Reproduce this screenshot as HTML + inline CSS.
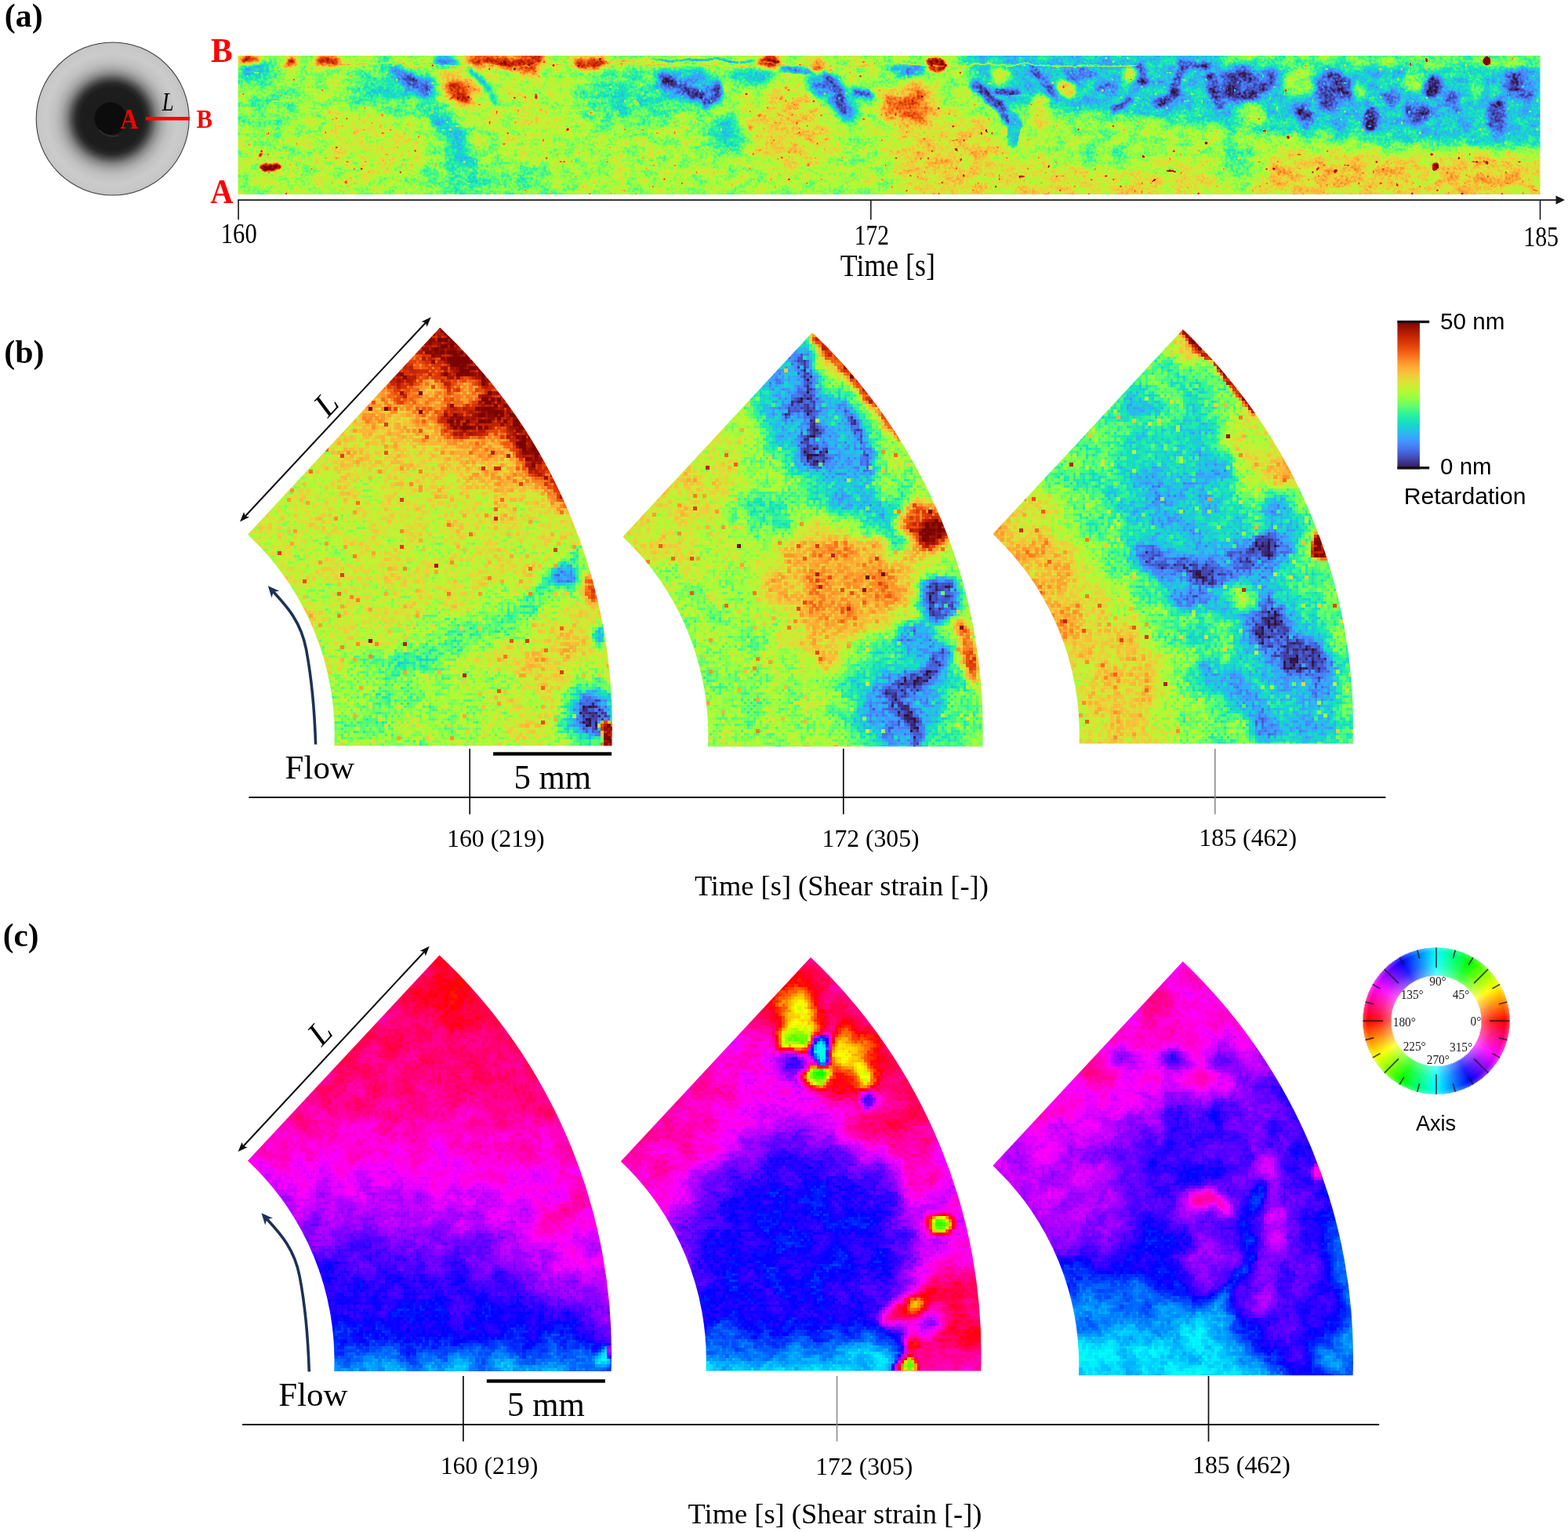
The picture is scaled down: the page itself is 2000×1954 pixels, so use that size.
<!DOCTYPE html>
<html><head><meta charset="utf-8"><title>Figure</title>
<style>html,body{margin:0;padding:0;background:#fff}svg{display:block}</style></head>
<body><svg width="2000" height="1954" viewBox="0 0 2000 1954">
<defs>
<clipPath id="cp_strip"><path d="M303.5,71.0H1964.5V248.0H303.5Z"/></clipPath>
<filter id="cm_strip" filterUnits="userSpaceOnUse" x="283" y="51" width="1701" height="217" color-interpolation-filters="sRGB"><feTurbulence type="fractalNoise" baseFrequency="0.03" numOctaves="3" seed="53" result="dn"/><feDisplacementMap in="SourceGraphic" in2="dn" scale="12" xChannelSelector="R" yChannelSelector="G" result="d"/><feTurbulence type="fractalNoise" baseFrequency="0.05 0.08" numOctaves="3" seed="94" result="q0"/><feColorMatrix in="q0" type="matrix" values="0 0 2.2 0 -0.6000000000000001  0 0 2.2 0 -0.6000000000000001  0 0 2.2 0 -0.6000000000000001  0 0 0 0 1" result="q1"/><feComposite in="d" in2="q1" operator="arithmetic" k1="0" k2="1" k3="0.14" k4="-0.07" result="vq"/><feTurbulence type="fractalNoise" baseFrequency="0.3 0.3" numOctaves="1" seed="3" result="n0"/><feColorMatrix in="n0" type="matrix" values="2.5 0 0 0 -0.75  2.5 0 0 0 -0.75  2.5 0 0 0 -0.75  0 0 0 0 1" result="n1"/><feComposite in="vq" in2="n1" operator="arithmetic" k1="0" k2="1" k3="0.1" k4="-0.05" result="v1"/><feTurbulence type="fractalNoise" baseFrequency="0.22" numOctaves="1" seed="10" result="m0"/><feColorMatrix in="m0" type="matrix" values="0 7.0 0 0 -4.83  0 7.0 0 0 -4.83  0 7.0 0 0 -4.83  0 0 0 0 1" result="m1"/><feComposite in="v1" in2="m1" operator="arithmetic" k1="0" k2="1" k3="0.4" k4="0" result="v2"/><feComponentTransfer in="v2"><feFuncR type="table" tableValues="0.190 0.209 0.225 0.239 0.251 0.261 0.268 0.273 0.276 0.277 0.275 0.271 0.259 0.239 0.214 0.186 0.158 0.133 0.112 0.098 0.093 0.100 0.120 0.153 0.197 0.248 0.305 0.366 0.428 0.489 0.547 0.599 0.644 0.685 0.726 0.766 0.805 0.841 0.875 0.906 0.933 0.956 0.973 0.985 0.993 0.997 0.996 0.992 0.984 0.972 0.958 0.941 0.921 0.899 0.874 0.847 0.816 0.783 0.746 0.707 0.664 0.619 0.571 0.520 0.480"/><feFuncG type="table" tableValues="0.072 0.118 0.164 0.208 0.252 0.296 0.338 0.380 0.421 0.462 0.501 0.540 0.580 0.619 0.659 0.698 0.736 0.772 0.806 0.837 0.866 0.890 0.912 0.932 0.949 0.964 0.977 0.987 0.994 0.998 0.999 0.996 0.990 0.979 0.965 0.946 0.925 0.900 0.873 0.843 0.812 0.780 0.747 0.713 0.674 0.632 0.587 0.540 0.493 0.446 0.400 0.356 0.315 0.278 0.245 0.214 0.185 0.157 0.131 0.107 0.084 0.064 0.045 0.028 0.016"/><feFuncB type="table" tableValues="0.232 0.346 0.451 0.547 0.634 0.712 0.780 0.840 0.891 0.933 0.966 0.989 0.999 0.995 0.980 0.955 0.923 0.886 0.845 0.803 0.762 0.724 0.687 0.643 0.595 0.543 0.490 0.437 0.386 0.338 0.296 0.260 0.234 0.216 0.206 0.203 0.205 0.209 0.216 0.222 0.227 0.228 0.225 0.216 0.203 0.187 0.169 0.149 0.128 0.108 0.088 0.070 0.055 0.042 0.033 0.025 0.018 0.013 0.009 0.006 0.004 0.004 0.005 0.008 0.011"/></feComponentTransfer></filter>
<clipPath id="cp_b1"><path d="M561.2,417.8 A695 695 0 0 1 780.4,951.2 L426.4,951.2 A349 349 0 0 0 316.0,681.8 Z"/></clipPath>
<filter id="cm_b1" filterUnits="userSpaceOnUse" x="286" y="387" width="524" height="593" color-interpolation-filters="sRGB"><feTurbulence type="fractalNoise" baseFrequency="0.03" numOctaves="3" seed="60" result="dn"/><feDisplacementMap in="SourceGraphic" in2="dn" scale="18" xChannelSelector="R" yChannelSelector="G" result="d"/><feTurbulence type="fractalNoise" baseFrequency="0.035" numOctaves="3" seed="101" result="q0"/><feColorMatrix in="q0" type="matrix" values="0 0 2.2 0 -0.6000000000000001  0 0 2.2 0 -0.6000000000000001  0 0 2.2 0 -0.6000000000000001  0 0 0 0 1" result="q1"/><feComposite in="d" in2="q1" operator="arithmetic" k1="0" k2="1" k3="0.11" k4="-0.055" result="vq"/><feTurbulence type="fractalNoise" baseFrequency="0.25 0.25" numOctaves="1" seed="10" result="n0"/><feColorMatrix in="n0" type="matrix" values="2.5 0 0 0 -0.75  2.5 0 0 0 -0.75  2.5 0 0 0 -0.75  0 0 0 0 1" result="n1"/><feComposite in="vq" in2="n1" operator="arithmetic" k1="0" k2="1" k3="0.14" k4="-0.07" result="v1"/><feTurbulence type="fractalNoise" baseFrequency="0.2" numOctaves="1" seed="17" result="m0"/><feColorMatrix in="m0" type="matrix" values="0 7.0 0 0 -4.760000000000001  0 7.0 0 0 -4.760000000000001  0 7.0 0 0 -4.760000000000001  0 0 0 0 1" result="m1"/><feComposite in="v1" in2="m1" operator="arithmetic" k1="0" k2="1" k3="0.45" k4="0" result="v2"/><feFlood x="288" y="389" width="1" height="1" flood-color="#000" result="f0"/><feComposite in="f0" in2="f0" operator="over" x="286" y="387" width="4" height="4" result="f1"/><feTile in="f1" x="286" y="387" width="524" height="593" result="f2"/><feComposite in="v2" in2="f2" operator="in" result="f3"/><feMorphology in="f3" operator="dilate" radius="2" result="f4"/><feComposite in="f4" in2="v2" operator="over" result="f5"/><feComponentTransfer in="f5"><feFuncR type="table" tableValues="0.190 0.209 0.225 0.239 0.251 0.261 0.268 0.273 0.276 0.277 0.275 0.271 0.259 0.239 0.214 0.186 0.158 0.133 0.112 0.098 0.093 0.100 0.120 0.153 0.197 0.248 0.305 0.366 0.428 0.489 0.547 0.599 0.644 0.685 0.726 0.766 0.805 0.841 0.875 0.906 0.933 0.956 0.973 0.985 0.993 0.997 0.996 0.992 0.984 0.972 0.958 0.941 0.921 0.899 0.874 0.847 0.816 0.783 0.746 0.707 0.664 0.619 0.571 0.520 0.480"/><feFuncG type="table" tableValues="0.072 0.118 0.164 0.208 0.252 0.296 0.338 0.380 0.421 0.462 0.501 0.540 0.580 0.619 0.659 0.698 0.736 0.772 0.806 0.837 0.866 0.890 0.912 0.932 0.949 0.964 0.977 0.987 0.994 0.998 0.999 0.996 0.990 0.979 0.965 0.946 0.925 0.900 0.873 0.843 0.812 0.780 0.747 0.713 0.674 0.632 0.587 0.540 0.493 0.446 0.400 0.356 0.315 0.278 0.245 0.214 0.185 0.157 0.131 0.107 0.084 0.064 0.045 0.028 0.016"/><feFuncB type="table" tableValues="0.232 0.346 0.451 0.547 0.634 0.712 0.780 0.840 0.891 0.933 0.966 0.989 0.999 0.995 0.980 0.955 0.923 0.886 0.845 0.803 0.762 0.724 0.687 0.643 0.595 0.543 0.490 0.437 0.386 0.338 0.296 0.260 0.234 0.216 0.206 0.203 0.205 0.209 0.216 0.222 0.227 0.228 0.225 0.216 0.203 0.187 0.169 0.149 0.128 0.108 0.088 0.070 0.055 0.042 0.033 0.025 0.018 0.013 0.009 0.006 0.004 0.004 0.005 0.008 0.011"/></feComponentTransfer></filter>
<clipPath id="cp_b2"><path d="M1036.0,424.1 A695 695 0 0 1 1253.3,952.3 L903.0,952.3 A349 349 0 0 0 794.4,684.5 Z"/></clipPath>
<filter id="cm_b2" filterUnits="userSpaceOnUse" x="764" y="394" width="518" height="588" color-interpolation-filters="sRGB"><feTurbulence type="fractalNoise" baseFrequency="0.03" numOctaves="3" seed="61" result="dn"/><feDisplacementMap in="SourceGraphic" in2="dn" scale="18" xChannelSelector="R" yChannelSelector="G" result="d"/><feTurbulence type="fractalNoise" baseFrequency="0.035" numOctaves="3" seed="102" result="q0"/><feColorMatrix in="q0" type="matrix" values="0 0 2.2 0 -0.6000000000000001  0 0 2.2 0 -0.6000000000000001  0 0 2.2 0 -0.6000000000000001  0 0 0 0 1" result="q1"/><feComposite in="d" in2="q1" operator="arithmetic" k1="0" k2="1" k3="0.11" k4="-0.055" result="vq"/><feTurbulence type="fractalNoise" baseFrequency="0.25 0.25" numOctaves="1" seed="11" result="n0"/><feColorMatrix in="n0" type="matrix" values="2.5 0 0 0 -0.75  2.5 0 0 0 -0.75  2.5 0 0 0 -0.75  0 0 0 0 1" result="n1"/><feComposite in="vq" in2="n1" operator="arithmetic" k1="0" k2="1" k3="0.14" k4="-0.07" result="v1"/><feTurbulence type="fractalNoise" baseFrequency="0.2" numOctaves="1" seed="18" result="m0"/><feColorMatrix in="m0" type="matrix" values="0 7.0 0 0 -4.760000000000001  0 7.0 0 0 -4.760000000000001  0 7.0 0 0 -4.760000000000001  0 0 0 0 1" result="m1"/><feComposite in="v1" in2="m1" operator="arithmetic" k1="0" k2="1" k3="0.45" k4="0" result="v2"/><feFlood x="766" y="396" width="1" height="1" flood-color="#000" result="f0"/><feComposite in="f0" in2="f0" operator="over" x="764" y="394" width="4" height="4" result="f1"/><feTile in="f1" x="764" y="394" width="518" height="588" result="f2"/><feComposite in="v2" in2="f2" operator="in" result="f3"/><feMorphology in="f3" operator="dilate" radius="2" result="f4"/><feComposite in="f4" in2="v2" operator="over" result="f5"/><feComponentTransfer in="f5"><feFuncR type="table" tableValues="0.190 0.209 0.225 0.239 0.251 0.261 0.268 0.273 0.276 0.277 0.275 0.271 0.259 0.239 0.214 0.186 0.158 0.133 0.112 0.098 0.093 0.100 0.120 0.153 0.197 0.248 0.305 0.366 0.428 0.489 0.547 0.599 0.644 0.685 0.726 0.766 0.805 0.841 0.875 0.906 0.933 0.956 0.973 0.985 0.993 0.997 0.996 0.992 0.984 0.972 0.958 0.941 0.921 0.899 0.874 0.847 0.816 0.783 0.746 0.707 0.664 0.619 0.571 0.520 0.480"/><feFuncG type="table" tableValues="0.072 0.118 0.164 0.208 0.252 0.296 0.338 0.380 0.421 0.462 0.501 0.540 0.580 0.619 0.659 0.698 0.736 0.772 0.806 0.837 0.866 0.890 0.912 0.932 0.949 0.964 0.977 0.987 0.994 0.998 0.999 0.996 0.990 0.979 0.965 0.946 0.925 0.900 0.873 0.843 0.812 0.780 0.747 0.713 0.674 0.632 0.587 0.540 0.493 0.446 0.400 0.356 0.315 0.278 0.245 0.214 0.185 0.157 0.131 0.107 0.084 0.064 0.045 0.028 0.016"/><feFuncB type="table" tableValues="0.232 0.346 0.451 0.547 0.634 0.712 0.780 0.840 0.891 0.933 0.966 0.989 0.999 0.995 0.980 0.955 0.923 0.886 0.845 0.803 0.762 0.724 0.687 0.643 0.595 0.543 0.490 0.437 0.386 0.338 0.296 0.260 0.234 0.216 0.206 0.203 0.205 0.209 0.216 0.222 0.227 0.228 0.225 0.216 0.203 0.187 0.169 0.149 0.128 0.108 0.088 0.070 0.055 0.042 0.033 0.025 0.018 0.013 0.009 0.006 0.004 0.004 0.005 0.008 0.011"/></feComponentTransfer></filter>
<clipPath id="cp_b3"><path d="M1508.8,420.1 A695 695 0 0 1 1725.6,948.5 L1376.5,948.5 A349 349 0 0 0 1266.3,681.2 Z"/></clipPath>
<filter id="cm_b3" filterUnits="userSpaceOnUse" x="1236" y="390" width="519" height="588" color-interpolation-filters="sRGB"><feTurbulence type="fractalNoise" baseFrequency="0.03" numOctaves="3" seed="62" result="dn"/><feDisplacementMap in="SourceGraphic" in2="dn" scale="18" xChannelSelector="R" yChannelSelector="G" result="d"/><feTurbulence type="fractalNoise" baseFrequency="0.035" numOctaves="3" seed="103" result="q0"/><feColorMatrix in="q0" type="matrix" values="0 0 2.2 0 -0.6000000000000001  0 0 2.2 0 -0.6000000000000001  0 0 2.2 0 -0.6000000000000001  0 0 0 0 1" result="q1"/><feComposite in="d" in2="q1" operator="arithmetic" k1="0" k2="1" k3="0.11" k4="-0.055" result="vq"/><feTurbulence type="fractalNoise" baseFrequency="0.25 0.25" numOctaves="1" seed="12" result="n0"/><feColorMatrix in="n0" type="matrix" values="2.5 0 0 0 -0.75  2.5 0 0 0 -0.75  2.5 0 0 0 -0.75  0 0 0 0 1" result="n1"/><feComposite in="vq" in2="n1" operator="arithmetic" k1="0" k2="1" k3="0.14" k4="-0.07" result="v1"/><feTurbulence type="fractalNoise" baseFrequency="0.2" numOctaves="1" seed="19" result="m0"/><feColorMatrix in="m0" type="matrix" values="0 7.0 0 0 -4.760000000000001  0 7.0 0 0 -4.760000000000001  0 7.0 0 0 -4.760000000000001  0 0 0 0 1" result="m1"/><feComposite in="v1" in2="m1" operator="arithmetic" k1="0" k2="1" k3="0.45" k4="0" result="v2"/><feFlood x="1238" y="392" width="1" height="1" flood-color="#000" result="f0"/><feComposite in="f0" in2="f0" operator="over" x="1236" y="390" width="4" height="4" result="f1"/><feTile in="f1" x="1236" y="390" width="519" height="588" result="f2"/><feComposite in="v2" in2="f2" operator="in" result="f3"/><feMorphology in="f3" operator="dilate" radius="2" result="f4"/><feComposite in="f4" in2="v2" operator="over" result="f5"/><feComponentTransfer in="f5"><feFuncR type="table" tableValues="0.190 0.209 0.225 0.239 0.251 0.261 0.268 0.273 0.276 0.277 0.275 0.271 0.259 0.239 0.214 0.186 0.158 0.133 0.112 0.098 0.093 0.100 0.120 0.153 0.197 0.248 0.305 0.366 0.428 0.489 0.547 0.599 0.644 0.685 0.726 0.766 0.805 0.841 0.875 0.906 0.933 0.956 0.973 0.985 0.993 0.997 0.996 0.992 0.984 0.972 0.958 0.941 0.921 0.899 0.874 0.847 0.816 0.783 0.746 0.707 0.664 0.619 0.571 0.520 0.480"/><feFuncG type="table" tableValues="0.072 0.118 0.164 0.208 0.252 0.296 0.338 0.380 0.421 0.462 0.501 0.540 0.580 0.619 0.659 0.698 0.736 0.772 0.806 0.837 0.866 0.890 0.912 0.932 0.949 0.964 0.977 0.987 0.994 0.998 0.999 0.996 0.990 0.979 0.965 0.946 0.925 0.900 0.873 0.843 0.812 0.780 0.747 0.713 0.674 0.632 0.587 0.540 0.493 0.446 0.400 0.356 0.315 0.278 0.245 0.214 0.185 0.157 0.131 0.107 0.084 0.064 0.045 0.028 0.016"/><feFuncB type="table" tableValues="0.232 0.346 0.451 0.547 0.634 0.712 0.780 0.840 0.891 0.933 0.966 0.989 0.999 0.995 0.980 0.955 0.923 0.886 0.845 0.803 0.762 0.724 0.687 0.643 0.595 0.543 0.490 0.437 0.386 0.338 0.296 0.260 0.234 0.216 0.206 0.203 0.205 0.209 0.216 0.222 0.227 0.228 0.225 0.216 0.203 0.187 0.169 0.149 0.128 0.108 0.088 0.070 0.055 0.042 0.033 0.025 0.018 0.013 0.009 0.006 0.004 0.004 0.005 0.008 0.011"/></feComponentTransfer></filter>
<clipPath id="cp_c1"><path d="M560.5,1218.3 A695 695 0 0 1 779.6,1749.0 L426.2,1749.0 A349 349 0 0 0 316.0,1480.5 Z"/></clipPath>
<filter id="cm_c1" filterUnits="userSpaceOnUse" x="286" y="1188" width="523" height="590" color-interpolation-filters="sRGB"><feTurbulence type="fractalNoise" baseFrequency="0.03" numOctaves="3" seed="73" result="dn"/><feDisplacementMap in="SourceGraphic" in2="dn" scale="18" xChannelSelector="R" yChannelSelector="G" result="d"/><feTurbulence type="fractalNoise" baseFrequency="0.035" numOctaves="3" seed="114" result="q0"/><feColorMatrix in="q0" type="matrix" values="0 0 2.2 0 -0.6000000000000001  0 0 2.2 0 -0.6000000000000001  0 0 2.2 0 -0.6000000000000001  0 0 0 0 1" result="q1"/><feComposite in="d" in2="q1" operator="arithmetic" k1="0" k2="1" k3="0.055" k4="-0.0275" result="vq"/><feTurbulence type="fractalNoise" baseFrequency="0.25 0.25" numOctaves="1" seed="23" result="n0"/><feColorMatrix in="n0" type="matrix" values="2.5 0 0 0 -0.75  2.5 0 0 0 -0.75  2.5 0 0 0 -0.75  0 0 0 0 1" result="n1"/><feComposite in="vq" in2="n1" operator="arithmetic" k1="0" k2="1" k3="0.035" k4="-0.0175" result="v1"/><feFlood x="288" y="1190" width="1" height="1" flood-color="#000" result="f0"/><feComposite in="f0" in2="f0" operator="over" x="286" y="1188" width="4" height="4" result="f1"/><feTile in="f1" x="286" y="1188" width="523" height="590" result="f2"/><feComposite in="v1" in2="f2" operator="in" result="f3"/><feMorphology in="f3" operator="dilate" radius="2" result="f4"/><feComposite in="f4" in2="v1" operator="over" result="f5"/><feComponentTransfer in="f5"><feFuncR type="table" tableValues="0.000 0.000 0.000 0.000 0.000 0.000 0.000 0.000 0.000 0.000 0.000 0.000 0.000 0.000 0.000 0.000 0.000 0.094 0.188 0.281 0.375 0.469 0.562 0.656 0.750 0.844 0.938 1.000 1.000 1.000 1.000 1.000 1.000 1.000 1.000 1.000 1.000 1.000 1.000 1.000 1.000 1.000 1.000 1.000 1.000 1.000 1.000 1.000 1.000 0.906 0.812 0.719 0.625 0.531 0.438 0.344 0.250 0.156 0.062 0.000 0.000 0.000 0.000 0.000 0.000"/><feFuncG type="table" tableValues="1.000 1.000 1.000 1.000 1.000 1.000 0.938 0.844 0.750 0.656 0.562 0.469 0.375 0.281 0.188 0.094 0.000 0.000 0.000 0.000 0.000 0.000 0.000 0.000 0.000 0.000 0.000 0.000 0.000 0.000 0.000 0.000 0.000 0.000 0.000 0.000 0.000 0.000 0.062 0.156 0.250 0.344 0.438 0.531 0.625 0.719 0.812 0.906 1.000 1.000 1.000 1.000 1.000 1.000 1.000 1.000 1.000 1.000 1.000 1.000 1.000 1.000 1.000 1.000 1.000"/><feFuncB type="table" tableValues="0.500 0.594 0.688 0.781 0.875 0.969 1.000 1.000 1.000 1.000 1.000 1.000 1.000 1.000 1.000 1.000 1.000 1.000 1.000 1.000 1.000 1.000 1.000 1.000 1.000 1.000 1.000 0.969 0.875 0.781 0.688 0.594 0.500 0.406 0.312 0.219 0.125 0.031 0.000 0.000 0.000 0.000 0.000 0.000 0.000 0.000 0.000 0.000 0.000 0.000 0.000 0.000 0.000 0.000 0.000 0.000 0.000 0.000 0.000 0.031 0.125 0.219 0.312 0.406 0.500"/></feComponentTransfer></filter>
<clipPath id="cp_c2"><path d="M1034.0,1221.0 A695 695 0 0 1 1251.2,1748.4 L900.5,1748.4 A349 349 0 0 0 791.8,1481.2 Z"/></clipPath>
<filter id="cm_c2" filterUnits="userSpaceOnUse" x="761" y="1191" width="519" height="587" color-interpolation-filters="sRGB"><feTurbulence type="fractalNoise" baseFrequency="0.03" numOctaves="3" seed="74" result="dn"/><feDisplacementMap in="SourceGraphic" in2="dn" scale="18" xChannelSelector="R" yChannelSelector="G" result="d"/><feTurbulence type="fractalNoise" baseFrequency="0.035" numOctaves="3" seed="115" result="q0"/><feColorMatrix in="q0" type="matrix" values="0 0 2.2 0 -0.6000000000000001  0 0 2.2 0 -0.6000000000000001  0 0 2.2 0 -0.6000000000000001  0 0 0 0 1" result="q1"/><feComposite in="d" in2="q1" operator="arithmetic" k1="0" k2="1" k3="0.055" k4="-0.0275" result="vq"/><feTurbulence type="fractalNoise" baseFrequency="0.25 0.25" numOctaves="1" seed="24" result="n0"/><feColorMatrix in="n0" type="matrix" values="2.5 0 0 0 -0.75  2.5 0 0 0 -0.75  2.5 0 0 0 -0.75  0 0 0 0 1" result="n1"/><feComposite in="vq" in2="n1" operator="arithmetic" k1="0" k2="1" k3="0.035" k4="-0.0175" result="v1"/><feFlood x="763" y="1193" width="1" height="1" flood-color="#000" result="f0"/><feComposite in="f0" in2="f0" operator="over" x="761" y="1191" width="4" height="4" result="f1"/><feTile in="f1" x="761" y="1191" width="519" height="587" result="f2"/><feComposite in="v1" in2="f2" operator="in" result="f3"/><feMorphology in="f3" operator="dilate" radius="2" result="f4"/><feComposite in="f4" in2="v1" operator="over" result="f5"/><feComponentTransfer in="f5"><feFuncR type="table" tableValues="0.000 0.000 0.000 0.000 0.000 0.000 0.000 0.000 0.000 0.000 0.000 0.000 0.000 0.000 0.000 0.000 0.000 0.094 0.188 0.281 0.375 0.469 0.562 0.656 0.750 0.844 0.938 1.000 1.000 1.000 1.000 1.000 1.000 1.000 1.000 1.000 1.000 1.000 1.000 1.000 1.000 1.000 1.000 1.000 1.000 1.000 1.000 1.000 1.000 0.906 0.812 0.719 0.625 0.531 0.438 0.344 0.250 0.156 0.062 0.000 0.000 0.000 0.000 0.000 0.000"/><feFuncG type="table" tableValues="1.000 1.000 1.000 1.000 1.000 1.000 0.938 0.844 0.750 0.656 0.562 0.469 0.375 0.281 0.188 0.094 0.000 0.000 0.000 0.000 0.000 0.000 0.000 0.000 0.000 0.000 0.000 0.000 0.000 0.000 0.000 0.000 0.000 0.000 0.000 0.000 0.000 0.000 0.062 0.156 0.250 0.344 0.438 0.531 0.625 0.719 0.812 0.906 1.000 1.000 1.000 1.000 1.000 1.000 1.000 1.000 1.000 1.000 1.000 1.000 1.000 1.000 1.000 1.000 1.000"/><feFuncB type="table" tableValues="0.500 0.594 0.688 0.781 0.875 0.969 1.000 1.000 1.000 1.000 1.000 1.000 1.000 1.000 1.000 1.000 1.000 1.000 1.000 1.000 1.000 1.000 1.000 1.000 1.000 1.000 1.000 0.969 0.875 0.781 0.688 0.594 0.500 0.406 0.312 0.219 0.125 0.031 0.000 0.000 0.000 0.000 0.000 0.000 0.000 0.000 0.000 0.000 0.000 0.000 0.000 0.000 0.000 0.000 0.000 0.000 0.000 0.000 0.000 0.031 0.125 0.219 0.312 0.406 0.500"/></feComponentTransfer></filter>
<clipPath id="cp_c3"><path d="M1508.7,1226.3 A695 695 0 0 1 1725.6,1754.3 L1376.0,1754.3 A349 349 0 0 0 1266.4,1486.7 Z"/></clipPath>
<filter id="cm_c3" filterUnits="userSpaceOnUse" x="1236" y="1196" width="519" height="588" color-interpolation-filters="sRGB"><feTurbulence type="fractalNoise" baseFrequency="0.03" numOctaves="3" seed="75" result="dn"/><feDisplacementMap in="SourceGraphic" in2="dn" scale="18" xChannelSelector="R" yChannelSelector="G" result="d"/><feTurbulence type="fractalNoise" baseFrequency="0.035" numOctaves="3" seed="116" result="q0"/><feColorMatrix in="q0" type="matrix" values="0 0 2.2 0 -0.6000000000000001  0 0 2.2 0 -0.6000000000000001  0 0 2.2 0 -0.6000000000000001  0 0 0 0 1" result="q1"/><feComposite in="d" in2="q1" operator="arithmetic" k1="0" k2="1" k3="0.055" k4="-0.0275" result="vq"/><feTurbulence type="fractalNoise" baseFrequency="0.25 0.25" numOctaves="1" seed="25" result="n0"/><feColorMatrix in="n0" type="matrix" values="2.5 0 0 0 -0.75  2.5 0 0 0 -0.75  2.5 0 0 0 -0.75  0 0 0 0 1" result="n1"/><feComposite in="vq" in2="n1" operator="arithmetic" k1="0" k2="1" k3="0.035" k4="-0.0175" result="v1"/><feFlood x="1238" y="1198" width="1" height="1" flood-color="#000" result="f0"/><feComposite in="f0" in2="f0" operator="over" x="1236" y="1196" width="4" height="4" result="f1"/><feTile in="f1" x="1236" y="1196" width="519" height="588" result="f2"/><feComposite in="v1" in2="f2" operator="in" result="f3"/><feMorphology in="f3" operator="dilate" radius="2" result="f4"/><feComposite in="f4" in2="v1" operator="over" result="f5"/><feComponentTransfer in="f5"><feFuncR type="table" tableValues="0.000 0.000 0.000 0.000 0.000 0.000 0.000 0.000 0.000 0.000 0.000 0.000 0.000 0.000 0.000 0.000 0.000 0.094 0.188 0.281 0.375 0.469 0.562 0.656 0.750 0.844 0.938 1.000 1.000 1.000 1.000 1.000 1.000 1.000 1.000 1.000 1.000 1.000 1.000 1.000 1.000 1.000 1.000 1.000 1.000 1.000 1.000 1.000 1.000 0.906 0.812 0.719 0.625 0.531 0.438 0.344 0.250 0.156 0.062 0.000 0.000 0.000 0.000 0.000 0.000"/><feFuncG type="table" tableValues="1.000 1.000 1.000 1.000 1.000 1.000 0.938 0.844 0.750 0.656 0.562 0.469 0.375 0.281 0.188 0.094 0.000 0.000 0.000 0.000 0.000 0.000 0.000 0.000 0.000 0.000 0.000 0.000 0.000 0.000 0.000 0.000 0.000 0.000 0.000 0.000 0.000 0.000 0.062 0.156 0.250 0.344 0.438 0.531 0.625 0.719 0.812 0.906 1.000 1.000 1.000 1.000 1.000 1.000 1.000 1.000 1.000 1.000 1.000 1.000 1.000 1.000 1.000 1.000 1.000"/><feFuncB type="table" tableValues="0.500 0.594 0.688 0.781 0.875 0.969 1.000 1.000 1.000 1.000 1.000 1.000 1.000 1.000 1.000 1.000 1.000 1.000 1.000 1.000 1.000 1.000 1.000 1.000 1.000 1.000 1.000 0.969 0.875 0.781 0.688 0.594 0.500 0.406 0.312 0.219 0.125 0.031 0.000 0.000 0.000 0.000 0.000 0.000 0.000 0.000 0.000 0.000 0.000 0.000 0.000 0.000 0.000 0.000 0.000 0.000 0.000 0.000 0.000 0.031 0.125 0.219 0.312 0.406 0.500"/></feComponentTransfer></filter>
<radialGradient id="disc" gradientUnits="userSpaceOnUse" cx="142.5" cy="151.5" r="99.2">
<stop offset="0" stop-color="#1b1b1b"/><stop offset="0.40" stop-color="#1d1d1d"/><stop offset="0.46" stop-color="#2c2c2c"/>
<stop offset="0.52" stop-color="#555"/><stop offset="0.58" stop-color="#868686"/><stop offset="0.65" stop-color="#aaa"/>
<stop offset="0.73" stop-color="#c0c0c0"/><stop offset="0.84" stop-color="#cbcbcb"/><stop offset="0.93" stop-color="#c8c8c8"/><stop offset="1" stop-color="#c2c2c2"/></radialGradient>
<linearGradient id="cbar" x1="0" y1="0" x2="0" y2="1"><stop offset="0.0000" stop-color="rgb(122,4,3)"/><stop offset="0.0312" stop-color="rgb(146,11,1)"/><stop offset="0.0625" stop-color="rgb(169,22,1)"/><stop offset="0.0938" stop-color="rgb(190,33,2)"/><stop offset="0.1250" stop-color="rgb(208,47,5)"/><stop offset="0.1562" stop-color="rgb(223,63,8)"/><stop offset="0.1875" stop-color="rgb(235,80,14)"/><stop offset="0.2188" stop-color="rgb(244,102,23)"/><stop offset="0.2500" stop-color="rgb(251,126,33)"/><stop offset="0.2812" stop-color="rgb(254,150,43)"/><stop offset="0.3125" stop-color="rgb(253,172,52)"/><stop offset="0.3438" stop-color="rgb(248,190,57)"/><stop offset="0.3750" stop-color="rgb(238,207,58)"/><stop offset="0.4062" stop-color="rgb(223,223,55)"/><stop offset="0.4375" stop-color="rgb(205,236,52)"/><stop offset="0.4688" stop-color="rgb(185,246,53)"/><stop offset="0.5000" stop-color="rgb(164,252,60)"/><stop offset="0.5312" stop-color="rgb(139,255,75)"/><stop offset="0.5625" stop-color="rgb(109,254,98)"/><stop offset="0.5938" stop-color="rgb(78,249,125)"/><stop offset="0.6250" stop-color="rgb(50,242,152)"/><stop offset="0.6562" stop-color="rgb(31,233,175)"/><stop offset="0.6875" stop-color="rgb(24,221,194)"/><stop offset="0.7188" stop-color="rgb(28,205,216)"/><stop offset="0.7500" stop-color="rgb(40,188,235)"/><stop offset="0.7812" stop-color="rgb(55,168,250)"/><stop offset="0.8125" stop-color="rgb(66,148,255)"/><stop offset="0.8438" stop-color="rgb(70,128,246)"/><stop offset="0.8750" stop-color="rgb(70,107,227)"/><stop offset="0.9062" stop-color="rgb(68,86,199)"/><stop offset="0.9375" stop-color="rgb(64,64,162)"/><stop offset="0.9688" stop-color="rgb(57,42,115)"/><stop offset="1.0000" stop-color="rgb(48,18,59)"/></linearGradient>
<radialGradient id="wh" gradientUnits="userSpaceOnUse" cx="1832.0" cy="1302.2" r="94.0"><stop offset="0.610" stop-color="#fff" stop-opacity="0.38"/><stop offset="0.759" stop-color="#fff" stop-opacity="0.12"/><stop offset="0.93" stop-color="#fff" stop-opacity="0"/><stop offset="1" stop-color="#fff" stop-opacity="0.25"/></radialGradient>
<filter id="bl0_7" x="-50%" y="-50%" width="200%" height="200%" color-interpolation-filters="sRGB"><feGaussianBlur stdDeviation="0.7"/></filter>
<filter id="bl1" x="-50%" y="-50%" width="200%" height="200%" color-interpolation-filters="sRGB"><feGaussianBlur stdDeviation="1"/></filter>
<filter id="bl1_5" x="-50%" y="-50%" width="200%" height="200%" color-interpolation-filters="sRGB"><feGaussianBlur stdDeviation="1.5"/></filter>
<filter id="bl2" x="-50%" y="-50%" width="200%" height="200%" color-interpolation-filters="sRGB"><feGaussianBlur stdDeviation="2"/></filter>
<filter id="bl3" x="-50%" y="-50%" width="200%" height="200%" color-interpolation-filters="sRGB"><feGaussianBlur stdDeviation="3"/></filter>
<filter id="bl4" x="-50%" y="-50%" width="200%" height="200%" color-interpolation-filters="sRGB"><feGaussianBlur stdDeviation="4"/></filter>
<filter id="bl6" x="-50%" y="-50%" width="200%" height="200%" color-interpolation-filters="sRGB"><feGaussianBlur stdDeviation="6"/></filter>
<filter id="bl8" x="-50%" y="-50%" width="200%" height="200%" color-interpolation-filters="sRGB"><feGaussianBlur stdDeviation="8"/></filter>
<filter id="bl12" x="-50%" y="-50%" width="200%" height="200%" color-interpolation-filters="sRGB"><feGaussianBlur stdDeviation="12"/></filter>
<filter id="bl16" x="-50%" y="-50%" width="200%" height="200%" color-interpolation-filters="sRGB"><feGaussianBlur stdDeviation="16"/></filter>
<filter id="bl24" x="-50%" y="-50%" width="200%" height="200%" color-interpolation-filters="sRGB"><feGaussianBlur stdDeviation="24"/></filter>
<filter id="bl32" x="-50%" y="-50%" width="200%" height="200%" color-interpolation-filters="sRGB"><feGaussianBlur stdDeviation="32"/></filter>
</defs>
<rect width="2000" height="1954" fill="#fff"/>
<g clip-path="url(#cp_strip)"><g filter="url(#cm_strip)">
<rect x="270.0" y="40.0" width="1730.0" height="240.0" fill="#808080"/>
<g filter="url(#bl24)"><ellipse cx="343.1" cy="131.1" rx="51.7" ry="40.9" fill="#6b6b6b"/><ellipse cx="468.1" cy="180.7" rx="69.0" ry="36.6" fill="#919191"/></g>
<g filter="url(#bl16)"><ellipse cx="623.2" cy="230.2" rx="99.1" ry="23.7" fill="#666666"/></g>
<g filter="url(#bl24)"><ellipse cx="677.1" cy="146.2" rx="43.1" ry="53.9" fill="#8a8a8a"/></g>
<g filter="url(#bl6)"><ellipse cx="325.9" cy="90.2" rx="21.5" ry="9.7" fill="#333333"/></g>
<g filter="url(#bl3)"><ellipse cx="317.2" cy="79.0" rx="14.0" ry="5.4" fill="#f2f2f2"/></g>
<g filter="url(#bl6)"><polyline points="356.0,80.5 450.8,80.5" fill="none" stroke="#b8b8b8" stroke-width="12.9" stroke-linecap="round" stroke-linejoin="round"/></g>
<g filter="url(#bl3)"><ellipse cx="371.1" cy="78.3" rx="7.5" ry="5.4" fill="#ebebeb"/><ellipse cx="418.5" cy="78.3" rx="15.1" ry="6.5" fill="#ebebeb"/></g>
<g filter="url(#bl6)"><polyline points="450.8,79.4 537.0,79.4" fill="none" stroke="#999999" stroke-width="9.7" stroke-linecap="round" stroke-linejoin="round"/></g>
<g filter="url(#bl3)"><ellipse cx="489.6" cy="76.2" rx="12.9" ry="4.3" fill="#616161"/></g>
<g filter="url(#bl4)"><ellipse cx="567.2" cy="78.3" rx="19.4" ry="7.5" fill="#262626"/><polyline points="601.7,77.2 687.9,78.3" fill="none" stroke="#e6e6e6" stroke-width="15.1" stroke-linecap="round" stroke-linejoin="round"/><ellipse cx="675.0" cy="90.2" rx="12.9" ry="8.6" fill="#d9d9d9"/></g>
<g filter="url(#bl6)"><polyline points="698.7,78.3 720.0,78.3" fill="none" stroke="#adadad" stroke-width="10.8" stroke-linecap="round" stroke-linejoin="round"/></g>
<g filter="url(#bl12)"><ellipse cx="493.9" cy="113.9" rx="49.6" ry="23.7" fill="#545454"/></g>
<g filter="url(#bl8)"><polyline points="545.7,116.0 558.6,141.9 571.5,161.3 578.0,180.7" fill="none" stroke="#383838" stroke-width="28" stroke-linecap="round" stroke-linejoin="round"/></g>
<g filter="url(#bl12)"><polyline points="578.0,180.7 588.8,206.5 597.4,223.8" fill="none" stroke="#4c4c4c" stroke-width="30.2" stroke-linecap="round" stroke-linejoin="round"/></g>
<g filter="url(#bl4)"><polyline points="506.9,92.3 526.3,105.3 545.7,116.0" fill="none" stroke="#1a1a1a" stroke-width="17.2" stroke-linecap="round" stroke-linejoin="round"/></g>
<g filter="url(#bl3)"><polyline points="515.5,96.6 543.5,115.0" fill="none" stroke="#0a0a0a" stroke-width="6.5" stroke-linecap="round" stroke-linejoin="round"/></g>
<g filter="url(#bl12)"><ellipse cx="584.5" cy="116.0" rx="32.3" ry="23.7" fill="#a8a8a8"/></g>
<g filter="url(#bl4)"><ellipse cx="585.5" cy="117.8" rx="17.2" ry="12.9" fill="#e0e0e0" transform="rotate(30 585.5 117.8)"/></g>
<g filter="url(#bl3)"><polyline points="599.5,85.9 618.9,107.4 631.9,131.1" fill="none" stroke="#404040" stroke-width="7.5" stroke-linecap="round" stroke-linejoin="round"/></g>
<g filter="url(#bl1_5)"><ellipse cx="345.3" cy="213.4" rx="12.9" ry="5.6" fill="#ffffff"/></g>
<g filter="url(#bl1)"><ellipse cx="331.9" cy="197.5" rx="3.0" ry="3.0" fill="#f2f2f2"/><ellipse cx="447.2" cy="116.0" rx="1.7" ry="1.7" fill="#e6e6e6"/><ellipse cx="485.3" cy="160.2" rx="1.7" ry="1.7" fill="#e6e6e6"/><ellipse cx="487.5" cy="148.8" rx="1.7" ry="1.7" fill="#e6e6e6"/><ellipse cx="573.7" cy="127.2" rx="1.7" ry="1.7" fill="#e6e6e6"/><ellipse cx="391.6" cy="87.6" rx="1.7" ry="1.7" fill="#e6e6e6"/><ellipse cx="342.0" cy="171.6" rx="1.7" ry="1.7" fill="#e6e6e6"/><ellipse cx="318.3" cy="185.6" rx="1.7" ry="1.7" fill="#e6e6e6"/><ellipse cx="512.3" cy="208.3" rx="1.7" ry="1.7" fill="#e6e6e6"/><ellipse cx="442.2" cy="233.5" rx="1.7" ry="1.7" fill="#e6e6e6"/><ellipse cx="690.0" cy="141.9" rx="1.7" ry="1.7" fill="#e6e6e6"/><ellipse cx="685.7" cy="120.8" rx="1.9" ry="3.9" fill="#fafafa"/></g>
<g filter="url(#bl12)"><ellipse cx="726.5" cy="124.6" rx="15.1" ry="23.7" fill="#919191"/></g>
<g filter="url(#bl16)"><ellipse cx="795.4" cy="124.6" rx="64.6" ry="32.3" fill="#575757"/><ellipse cx="1006.6" cy="161.3" rx="56.0" ry="51.7" fill="#9c9c9c"/></g>
<g filter="url(#bl12)"><ellipse cx="924.7" cy="172.1" rx="23.7" ry="25.9" fill="#474747"/></g>
<g filter="url(#bl6)"><polyline points="752.3,79.4 817.0,77.2" fill="none" stroke="#b2b2b2" stroke-width="10.8" stroke-linecap="round" stroke-linejoin="round"/></g>
<g filter="url(#bl3)"><ellipse cx="752.3" cy="78.3" rx="21.5" ry="7.5" fill="#e6e6e6"/></g>
<g filter="url(#bl4)"><polyline points="840.7,76.2 957.0,77.2" fill="none" stroke="#383838" stroke-width="10.8" stroke-linecap="round" stroke-linejoin="round"/></g>
<g filter="url(#bl6)"><ellipse cx="957.0" cy="96.6" rx="32.3" ry="10.8" fill="#454545"/></g>
<g filter="url(#bl8)"><ellipse cx="875.2" cy="109.6" rx="43.1" ry="21.5" fill="#333333"/></g>
<g filter="url(#bl3)"><polyline points="845.0,100.9 870.8,113.9 892.4,124.6" fill="none" stroke="#0f0f0f" stroke-width="11.9" stroke-linecap="round" stroke-linejoin="round"/><polyline points="898.9,133.3 916.1,118.2 913.9,109.6" fill="none" stroke="#0d0d0d" stroke-width="10.8" stroke-linecap="round" stroke-linejoin="round"/><ellipse cx="982.9" cy="81.5" rx="14.0" ry="8.6" fill="#f2f2f2"/><ellipse cx="1045.4" cy="83.7" rx="10.8" ry="7.5" fill="#cccccc"/></g>
<g filter="url(#bl6)"><polyline points="1064.8,81.5 1140.0,81.5" fill="none" stroke="#5c5c5c" stroke-width="17.2" stroke-linecap="round" stroke-linejoin="round"/></g>
<g filter="url(#bl3)"><polyline points="1000.1,88.0 1032.5,92.3" fill="none" stroke="#262626" stroke-width="8.6" stroke-linecap="round" stroke-linejoin="round"/></g>
<g filter="url(#bl6)"><polyline points="1043.2,107.4 1064.8,120.3 1082.0,141.9" fill="none" stroke="#2b2b2b" stroke-width="25.9" stroke-linecap="round" stroke-linejoin="round"/></g>
<g filter="url(#bl3)"><polyline points="1056.2,94.5 1069.1,116.0 1075.6,139.7" fill="none" stroke="#0d0d0d" stroke-width="11.9" stroke-linecap="round" stroke-linejoin="round"/><polyline points="1090.7,118.2 1107.9,122.5" fill="none" stroke="#0f0f0f" stroke-width="9.7" stroke-linecap="round" stroke-linejoin="round"/></g>
<g filter="url(#bl6)"><ellipse cx="1135.9" cy="133.3" rx="10.8" ry="19.4" fill="#c7c7c7"/></g>
<g filter="url(#bl1)"><ellipse cx="754.5" cy="147.3" rx="1.7" ry="1.7" fill="#e6e6e6"/><ellipse cx="813.1" cy="133.3" rx="1.7" ry="1.7" fill="#e6e6e6"/><ellipse cx="724.3" cy="162.4" rx="1.7" ry="1.7" fill="#e6e6e6"/><ellipse cx="888.1" cy="153.1" rx="1.7" ry="1.7" fill="#e6e6e6"/><ellipse cx="967.8" cy="148.8" rx="1.7" ry="1.7" fill="#e6e6e6"/><ellipse cx="996.9" cy="146.2" rx="1.7" ry="1.7" fill="#e6e6e6"/><ellipse cx="959.2" cy="164.5" rx="1.7" ry="1.7" fill="#e6e6e6"/><ellipse cx="1018.5" cy="159.1" rx="1.7" ry="1.7" fill="#e6e6e6"/><ellipse cx="1054.0" cy="175.7" rx="1.7" ry="1.7" fill="#e6e6e6"/><ellipse cx="1029.2" cy="211.9" rx="1.7" ry="1.7" fill="#e6e6e6"/><ellipse cx="1000.1" cy="111.7" rx="1.7" ry="1.7" fill="#e6e6e6"/><ellipse cx="993.7" cy="124.0" rx="1.7" ry="1.7" fill="#e6e6e6"/><ellipse cx="1061.6" cy="86.9" rx="1.7" ry="1.7" fill="#e6e6e6"/></g>
<g filter="url(#bl8)"><polygon points="1150.0,203.0 1300.0,208.0 1450.0,212.0 1600.0,205.0 1800.0,198.0 2014.0,196.0 2014.0,300.0 1150.0,300.0" fill="#959595"/></g>
<g filter="url(#bl12)"><ellipse cx="1700.0" cy="222.0" rx="110.0" ry="22.0" fill="#a3a3a3"/><ellipse cx="1890.0" cy="225.0" rx="60.0" ry="20.0" fill="#a8a8a8"/></g>
<g filter="url(#bl16)"><ellipse cx="1210.0" cy="195.0" rx="70.0" ry="45.0" fill="#9e9e9e"/></g>
<g filter="url(#bl12)"><ellipse cx="1420.0" cy="192.0" rx="60.0" ry="20.0" fill="#707070"/><ellipse cx="1578.0" cy="212.0" rx="26.0" ry="28.0" fill="#616161"/></g>
<g filter="url(#bl8)"><ellipse cx="1165.0" cy="135.0" rx="24.0" ry="28.0" fill="#c7c7c7"/><polygon points="1225.0,60.0 2014.0,60.0 2014.0,188.0 1850.0,186.0 1700.0,176.0 1600.0,165.0 1450.0,150.0 1330.0,142.0 1250.0,128.0" fill="#474747"/></g>
<g filter="url(#bl4)"><polygon points="1560.0,50.0 2014.0,50.0 2014.0,86.0 1800.0,88.0 1560.0,84.0" fill="#6b6b6b"/></g>
<g filter="url(#bl8)"><ellipse cx="1660.0" cy="100.0" rx="20.0" ry="18.0" fill="#7a7a7a"/></g>
<g filter="url(#bl6)"><ellipse cx="1595.0" cy="145.0" rx="16.0" ry="12.0" fill="#858585"/><ellipse cx="1806.0" cy="105.0" rx="12.0" ry="14.0" fill="#808080"/></g>
<g filter="url(#bl3)"><ellipse cx="1157.2" cy="90.2" rx="23.7" ry="8.6" fill="#333333"/></g>
<g filter="url(#bl1_5)"><ellipse cx="1193.9" cy="82.6" rx="12.9" ry="9.7" fill="#ebebeb"/></g>
<g filter="url(#bl3)"><polyline points="1247.7,78.3 1560.0,78.3" fill="none" stroke="#2b2b2b" stroke-width="12.9" stroke-linecap="round" stroke-linejoin="round"/></g>
<g filter="url(#bl2)"><polyline points="1243.4,109.6 1260.7,122.5 1277.9,137.6 1290.8,154.8" fill="none" stroke="#141414" stroke-width="15.1" stroke-linecap="round" stroke-linejoin="round"/></g>
<g filter="url(#bl1_5)"><polyline points="1273.6,113.9 1297.3,118.2" fill="none" stroke="#141414" stroke-width="9.7" stroke-linecap="round" stroke-linejoin="round"/></g>
<g filter="url(#bl2)"><polyline points="1316.7,90.2 1333.9,105.3 1340.4,116.0" fill="none" stroke="#1a1a1a" stroke-width="11.9" stroke-linecap="round" stroke-linejoin="round"/><polyline points="1420.1,137.6 1441.7,129.0" fill="none" stroke="#141414" stroke-width="10.8" stroke-linecap="round" stroke-linejoin="round"/><polyline points="1452.5,85.9 1458.9,103.1" fill="none" stroke="#141414" stroke-width="11.9" stroke-linecap="round" stroke-linejoin="round"/><polyline points="1476.2,133.3 1495.6,126.8 1506.3,92.3" fill="none" stroke="#141414" stroke-width="14" stroke-linecap="round" stroke-linejoin="round"/><polyline points="1545.1,98.8 1555.9,131.1" fill="none" stroke="#121212" stroke-width="14" stroke-linecap="round" stroke-linejoin="round"/><polyline points="1506.3,81.5 1538.7,85.9" fill="none" stroke="#171717" stroke-width="10.8" stroke-linecap="round" stroke-linejoin="round"/></g>
<g filter="url(#bl3)"><ellipse cx="1377.0" cy="92.3" rx="19.4" ry="8.6" fill="#1f1f1f"/><ellipse cx="1409.4" cy="109.6" rx="12.9" ry="10.8" fill="#242424"/></g>
<g filter="url(#bl4)"><polyline points="1290.8,154.8 1297.3,176.4" fill="none" stroke="#404040" stroke-width="19.4" stroke-linecap="round" stroke-linejoin="round"/></g>
<g filter="url(#bl3)"><ellipse cx="1277.9" cy="96.6" rx="12.9" ry="10.8" fill="#858585"/></g>
<g filter="url(#bl2)"><ellipse cx="1362.0" cy="113.9" rx="11.9" ry="9.1" fill="#999999"/></g>
<g filter="url(#bl3)"><ellipse cx="1325.3" cy="141.9" rx="15.1" ry="21.5" fill="#8c8c8c"/><ellipse cx="1441.7" cy="96.6" rx="10.8" ry="10.8" fill="#858585"/></g>
<g filter="url(#bl0_7)"><ellipse cx="1536.5" cy="183.5" rx="1.9" ry="1.9" fill="#f2f2f2"/><ellipse cx="1458.5" cy="200.7" rx="1.9" ry="1.9" fill="#f2f2f2"/><ellipse cx="1218.7" cy="189.9" rx="1.9" ry="1.9" fill="#f2f2f2"/><ellipse cx="1224.0" cy="204.0" rx="1.9" ry="1.9" fill="#f2f2f2"/><ellipse cx="1258.5" cy="168.8" rx="1.9" ry="1.9" fill="#f2f2f2"/><ellipse cx="1339.3" cy="213.4" rx="1.9" ry="1.9" fill="#f2f2f2"/><ellipse cx="1377.0" cy="166.7" rx="1.9" ry="1.9" fill="#f2f2f2"/><ellipse cx="1175.6" cy="122.5" rx="1.9" ry="1.9" fill="#f2f2f2"/><ellipse cx="1469.7" cy="230.2" rx="1.9" ry="1.9" fill="#f2f2f2"/><ellipse cx="1493.4" cy="219.9" rx="6.0" ry="1.5" fill="#f7f7f7"/><ellipse cx="1303.8" cy="224.9" rx="4.3" ry="1.5" fill="#ebebeb"/></g>
<g filter="url(#bl4)"><ellipse cx="1581.5" cy="109.6" rx="25.9" ry="25.9" fill="#121212"/></g>
<g filter="url(#bl3)"><ellipse cx="1613.9" cy="103.1" rx="12.9" ry="15.1" fill="#1a1a1a"/></g>
<g filter="url(#bl4)"><ellipse cx="1700.1" cy="113.9" rx="21.5" ry="25.9" fill="#141414"/></g>
<g filter="url(#bl2)"><ellipse cx="1749.6" cy="152.7" rx="9.7" ry="17.2" fill="#0a0a0a"/></g>
<g filter="url(#bl3)"><ellipse cx="1827.2" cy="109.6" rx="12.9" ry="15.1" fill="#0f0f0f"/><ellipse cx="1807.8" cy="141.9" rx="19.4" ry="15.1" fill="#1a1a1a"/><ellipse cx="1850.9" cy="131.1" rx="10.8" ry="12.9" fill="#1f1f1f"/><ellipse cx="1909.1" cy="146.2" rx="11.9" ry="23.7" fill="#141414"/></g>
<g filter="url(#bl4)"><ellipse cx="1937.1" cy="109.6" rx="19.4" ry="19.4" fill="#1c1c1c"/></g>
<g filter="url(#bl3)"><ellipse cx="1663.4" cy="146.2" rx="10.8" ry="15.1" fill="#141414"/><ellipse cx="1775.5" cy="124.6" rx="10.8" ry="10.8" fill="#242424"/></g>
<g filter="url(#bl4)"><ellipse cx="1650.5" cy="103.1" rx="12.9" ry="19.4" fill="#7a7a7a"/></g>
<g filter="url(#bl3)"><ellipse cx="1598.8" cy="144.0" rx="15.1" ry="10.8" fill="#858585"/><ellipse cx="1803.5" cy="103.1" rx="9.7" ry="11.9" fill="#7a7a7a"/><ellipse cx="1732.4" cy="116.0" rx="8.6" ry="12.9" fill="#707070"/><ellipse cx="1883.2" cy="113.9" rx="8.6" ry="15.1" fill="#6b6b6b"/></g>
<g filter="url(#bl0_7)"><ellipse cx="1897.9" cy="78.3" rx="4.7" ry="6.0" fill="#ffffff"/><ellipse cx="1829.8" cy="212.6" rx="5.4" ry="5.4" fill="#fafafa"/><ellipse cx="1817.5" cy="74.7" rx="1.9" ry="1.9" fill="#ebebeb"/><ellipse cx="1611.7" cy="163.9" rx="1.9" ry="1.9" fill="#ebebeb"/><ellipse cx="1643.0" cy="175.3" rx="1.9" ry="1.9" fill="#ebebeb"/><ellipse cx="1679.6" cy="214.1" rx="1.9" ry="1.9" fill="#ebebeb"/><ellipse cx="1702.2" cy="219.9" rx="1.9" ry="1.9" fill="#ebebeb"/><ellipse cx="1779.8" cy="237.1" rx="1.9" ry="1.9" fill="#ebebeb"/><ellipse cx="1895.1" cy="206.1" rx="1.9" ry="1.9" fill="#ebebeb"/><ellipse cx="1825.1" cy="195.8" rx="1.9" ry="1.9" fill="#ebebeb"/><ellipse cx="1641.9" cy="116.0" rx="1.9" ry="1.9" fill="#ebebeb"/><ellipse cx="1797.0" cy="82.6" rx="1.9" ry="1.9" fill="#ebebeb"/></g>
<rect x="350.0" y="82.6" width="1100.0" height="1.6" fill="#adadad" opacity="0.7"/>
</g></g>
<g clip-path="url(#cp_b1)"><g filter="url(#cm_b1)">
<rect x="200.0" y="300.0" width="700.0" height="760.0" fill="#8c8c8c"/>
<g filter="url(#bl32)"><polygon points="358.8,370.6 829.4,370.6 829.4,650.0 682.4,664.7 505.9,635.3 388.2,576.5" fill="#959595"/></g>
<g filter="url(#bl24)"><polygon points="447.1,370.6 800.0,370.6 770.6,623.5 623.5,605.9 505.9,547.1 432.4,532.4" fill="#b0b0b0"/></g>
<g filter="url(#bl16)"><polygon points="491.2,385.3 770.6,385.3 741.2,600.0 638.2,564.7 550.0,517.6 476.5,488.2" fill="#c2c2c2"/></g>
<g filter="url(#bl24)"><ellipse cx="373.5" cy="694.1" rx="64.7" ry="50.0" fill="#878787"/></g>
<g filter="url(#bl8)"><ellipse cx="558.8" cy="438.2" rx="29.4" ry="26.5" fill="#f7f7f7"/><polyline points="505.9,482.4 550.0,485.3 594.1,473.5" fill="none" stroke="#ededed" stroke-width="26.5" stroke-linecap="round" stroke-linejoin="round"/><polyline points="588.2,458.8 647.1,532.4 691.2,588.2" fill="none" stroke="#f7f7f7" stroke-width="35.3" stroke-linecap="round" stroke-linejoin="round"/><ellipse cx="600.0" cy="535.3" rx="41.2" ry="20.6" fill="#ededed"/></g>
<g filter="url(#bl6)"><ellipse cx="544.1" cy="497.1" rx="17.6" ry="11.8" fill="#a8a8a8"/><ellipse cx="594.1" cy="500.0" rx="20.6" ry="14.7" fill="#b2b2b2"/><polyline points="691.2,588.2 720.6,641.2" fill="none" stroke="#e0e0e0" stroke-width="17.6" stroke-linecap="round" stroke-linejoin="round"/></g>
<g filter="url(#bl24)"><polygon points="388.2,841.2 505.9,805.9 623.5,826.5 623.5,1017.6 388.2,1017.6" fill="#787878"/></g>
<g filter="url(#bl12)"><polyline points="732.4,726.5 688.2,764.7 638.2,791.2 594.1,805.9 550.0,826.5 505.9,858.8 476.5,897.1" fill="none" stroke="#5e5e5e" stroke-width="32.4" stroke-linecap="round" stroke-linejoin="round"/></g>
<g filter="url(#bl4)"><ellipse cx="720.6" cy="732.4" rx="17.6" ry="14.7" fill="#2e2e2e"/></g>
<g filter="url(#bl3)"><polyline points="738.2,702.9 733.8,723.5" fill="none" stroke="#474747" stroke-width="8.8" stroke-linecap="round" stroke-linejoin="round"/></g>
<g filter="url(#bl16)"><ellipse cx="711.8" cy="835.3" rx="44.1" ry="32.4" fill="#9e9e9e"/></g>
<g filter="url(#bl4)"><ellipse cx="755.9" cy="752.9" rx="8.8" ry="17.6" fill="#e0e0e0"/><ellipse cx="764.7" cy="811.8" rx="10.3" ry="16.2" fill="#474747"/></g>
<g filter="url(#bl12)"><ellipse cx="752.9" cy="908.8" rx="32.4" ry="44.1" fill="#2b2b2b"/></g>
<g filter="url(#bl4)"><ellipse cx="755.9" cy="913.2" rx="16.2" ry="22.1" fill="#0a0a0a"/></g>
<g filter="url(#bl1_5)"><rect x="767.6" y="919.1" width="32.4" height="39.7" fill="#f7f7f7"/></g>
</g></g>
<g clip-path="url(#cp_b2)"><g filter="url(#cm_b2)">
<rect x="680.0" y="300.0" width="700.0" height="760.0" fill="#7a7a7a"/>
<g filter="url(#bl24)"><polygon points="750.6,547.1 927.1,547.1 962.4,635.3 927.1,723.5 750.6,752.9" fill="#8c8c8c"/></g>
<g filter="url(#bl16)"><ellipse cx="877.1" cy="629.4" rx="52.9" ry="38.2" fill="#949494"/></g>
<g filter="url(#bl24)"><ellipse cx="1074.1" cy="761.8" rx="111.8" ry="97.1" fill="#a1a1a1"/><ellipse cx="1080.0" cy="747.1" rx="76.5" ry="58.8" fill="#b2b2b2"/><ellipse cx="941.8" cy="855.9" rx="76.5" ry="102.9" fill="#757575"/></g>
<g filter="url(#bl16)"><polyline points="1009.4,470.6 1030.0,532.4 1062.4,582.4 1112.4,617.6" fill="none" stroke="#363636" stroke-width="105.9" stroke-linecap="round" stroke-linejoin="round"/></g>
<g filter="url(#bl12)"><polyline points="1112.4,617.6 1159.4,652.9" fill="none" stroke="#454545" stroke-width="38.2" stroke-linecap="round" stroke-linejoin="round"/><ellipse cx="980.0" cy="652.9" rx="44.1" ry="32.4" fill="#5c5c5c"/></g>
<g filter="url(#bl8)"><polyline points="1074.1,623.5 1118.2,658.8 1147.6,694.1" fill="none" stroke="#474747" stroke-width="23.5" stroke-linecap="round" stroke-linejoin="round"/></g>
<g filter="url(#bl4)"><polyline points="1024.1,458.8 1032.9,497.1 1035.9,541.2 1024.1,564.7 1038.8,591.2 1053.5,579.4" fill="none" stroke="#0d0d0d" stroke-width="16.2" stroke-linecap="round" stroke-linejoin="round"/><polyline points="1032.9,497.1 1000.6,529.4" fill="none" stroke="#121212" stroke-width="14.7" stroke-linecap="round" stroke-linejoin="round"/><polyline points="1074.1,517.6 1097.6,552.9 1109.4,588.2 1113.8,608.8" fill="none" stroke="#121212" stroke-width="14.7" stroke-linecap="round" stroke-linejoin="round"/></g>
<g filter="url(#bl8)"><ellipse cx="1062.4" cy="467.6" rx="20.6" ry="26.5" fill="#a1a1a1"/></g>
<g filter="url(#bl12)"><ellipse cx="1141.8" cy="591.2" rx="23.5" ry="47.1" fill="#808080"/></g>
<g filter="url(#bl4)"><polyline points="1041.8,429.4 1077.1,467.6 1118.2,517.6 1153.5,561.8" fill="none" stroke="#d9d9d9" stroke-width="14.7" stroke-linecap="round" stroke-linejoin="round"/></g>
<g filter="url(#bl8)"><ellipse cx="1182.9" cy="670.6" rx="32.4" ry="35.3" fill="#d1d1d1"/></g>
<g filter="url(#bl4)"><ellipse cx="1187.4" cy="677.9" rx="19.1" ry="19.1" fill="#fafafa"/></g>
<g filter="url(#bl16)"><ellipse cx="1150.6" cy="885.3" rx="76.5" ry="88.2" fill="#4c4c4c"/></g>
<g filter="url(#bl6)"><ellipse cx="1197.6" cy="764.7" rx="27.9" ry="30.9" fill="#242424"/></g>
<g filter="url(#bl3)"><polyline points="1185.9,747.1 1191.8,779.4 1209.4,782.4 1206.5,747.1" fill="none" stroke="#0d0d0d" stroke-width="8.2" stroke-linecap="round" stroke-linejoin="round"/></g>
<g filter="url(#bl6)"><ellipse cx="1171.2" cy="811.8" rx="25.0" ry="22.1" fill="#333333"/></g>
<g filter="url(#bl8)"><ellipse cx="1147.6" cy="905.9" rx="44.1" ry="44.1" fill="#2b2b2b"/></g>
<g filter="url(#bl4)"><polyline points="1203.5,832.4 1185.9,858.8 1162.4,870.6 1132.9,885.3" fill="none" stroke="#0d0d0d" stroke-width="20.6" stroke-linecap="round" stroke-linejoin="round"/><polyline points="1141.8,897.1 1162.4,917.6 1168.2,950.0" fill="none" stroke="#0d0d0d" stroke-width="16.2" stroke-linecap="round" stroke-linejoin="round"/><polyline points="1227.1,802.9 1243.2,861.8" fill="none" stroke="#c7c7c7" stroke-width="17.6" stroke-linecap="round" stroke-linejoin="round"/></g>
<g filter="url(#bl8)"><ellipse cx="1230.0" cy="923.5" rx="23.5" ry="32.4" fill="#616161"/></g>
</g></g>
<g clip-path="url(#cp_b3)"><g filter="url(#cm_b3)">
<rect x="1150.0" y="300.0" width="700.0" height="760.0" fill="#6b6b6b"/>
<g filter="url(#bl16)"><polyline points="1264.7,650.0 1338.2,738.2 1391.2,811.8 1423.5,885.3 1438.2,958.8" fill="none" stroke="#969696" stroke-width="117.6" stroke-linecap="round" stroke-linejoin="round"/></g>
<g filter="url(#bl12)"><polyline points="1267.6,679.4 1323.5,738.2 1361.8,797.1" fill="none" stroke="#a8a8a8" stroke-width="58.8" stroke-linecap="round" stroke-linejoin="round"/></g>
<g filter="url(#bl16)"><ellipse cx="1438.2" cy="870.6" rx="35.3" ry="64.7" fill="#a1a1a1"/><ellipse cx="1617.6" cy="576.5" rx="64.7" ry="79.4" fill="#8c8c8c"/></g>
<g filter="url(#bl8)"><ellipse cx="1635.3" cy="600.0" rx="22.1" ry="22.1" fill="#a6a6a6"/><ellipse cx="1514.7" cy="444.1" rx="20.6" ry="23.5" fill="#949494"/></g>
<g filter="url(#bl2)"><polyline points="1510.3,423.5 1555.9,469.1 1598.5,523.5" fill="none" stroke="#f7f7f7" stroke-width="7.6" stroke-linecap="round" stroke-linejoin="round"/></g>
<g filter="url(#bl24)"><polyline points="1479.4,611.8 1544.1,708.8 1617.6,811.8 1676.5,905.9" fill="none" stroke="#454545" stroke-width="138.2" stroke-linecap="round" stroke-linejoin="round"/></g>
<g filter="url(#bl8)"><ellipse cx="1455.9" cy="511.8" rx="27.9" ry="23.5" fill="#454545"/><ellipse cx="1514.7" cy="497.1" rx="17.6" ry="17.6" fill="#525252"/><ellipse cx="1491.2" cy="582.4" rx="26.5" ry="20.6" fill="#4c4c4c"/><ellipse cx="1632.4" cy="658.8" rx="23.5" ry="35.3" fill="#383838"/><ellipse cx="1529.4" cy="547.1" rx="23.5" ry="35.3" fill="#4a4a4a"/><ellipse cx="1485.3" cy="641.2" rx="27.9" ry="20.6" fill="#333333"/><ellipse cx="1550.0" cy="605.9" rx="27.9" ry="25.0" fill="#3b3b3b"/><polyline points="1461.8,711.8 1514.7,723.5 1558.8,732.4 1602.9,708.8 1629.4,700.0" fill="none" stroke="#212121" stroke-width="41.2" stroke-linecap="round" stroke-linejoin="round"/></g>
<g filter="url(#bl4)"><ellipse cx="1544.1" cy="732.4" rx="20.6" ry="16.2" fill="#0a0a0a"/><ellipse cx="1611.8" cy="697.1" rx="16.2" ry="16.2" fill="#0f0f0f"/></g>
<g filter="url(#bl6)"><ellipse cx="1520.6" cy="764.7" rx="27.9" ry="14.7" fill="#2e2e2e"/></g>
<g filter="url(#bl8)"><polyline points="1602.9,776.5 1626.5,811.8 1661.8,841.2 1679.4,864.7" fill="none" stroke="#1c1c1c" stroke-width="50" stroke-linecap="round" stroke-linejoin="round"/></g>
<g filter="url(#bl4)"><ellipse cx="1620.6" cy="802.9" rx="20.6" ry="16.2" fill="#0a0a0a"/><ellipse cx="1661.8" cy="838.2" rx="23.5" ry="19.1" fill="#0d0d0d"/></g>
<g filter="url(#bl8)"><polyline points="1544.1,858.8 1573.5,870.6 1602.9,905.9 1617.6,932.4" fill="none" stroke="#333333" stroke-width="33.8" stroke-linecap="round" stroke-linejoin="round"/><polyline points="1661.8,876.5 1670.6,900.0 1647.1,929.4" fill="none" stroke="#3b3b3b" stroke-width="23.5" stroke-linecap="round" stroke-linejoin="round"/></g>
<g filter="url(#bl6)"><ellipse cx="1588.2" cy="761.8" rx="20.6" ry="16.2" fill="#737373"/></g>
<g filter="url(#bl8)"><ellipse cx="1558.8" cy="811.8" rx="20.6" ry="26.5" fill="#6b6b6b"/></g>
<g filter="url(#bl2)"><rect x="1673.5" y="677.9" width="23.5" height="32.4" fill="#fafafa"/></g>
<g filter="url(#bl8)"><polyline points="1704.4,723.5 1718.2,841.2 1722.1,950.0" fill="none" stroke="#6b6b6b" stroke-width="20.6" stroke-linecap="round" stroke-linejoin="round"/></g>
</g></g>
<g clip-path="url(#cp_c1)"><g filter="url(#cm_c1)">
<rect x="200.0" y="1100.0" width="700.0" height="760.0" fill="#818181"/>
<g filter="url(#bl32)"><polygon points="211.8,1441.2 564.7,1423.5 888.2,1464.7 888.2,1876.5 211.8,1876.5" fill="#6e6e6e"/><polygon points="211.8,1517.6 564.7,1508.8 682.4,1552.9 888.2,1597.1 888.2,1876.5 211.8,1876.5" fill="#5c5c5c"/><polygon points="211.8,1582.4 535.3,1591.2 652.9,1617.6 741.2,1658.8 888.2,1758.8 888.2,1876.5 211.8,1876.5" fill="#444444"/></g>
<g filter="url(#bl24)"><rect x="211.8" y="1708.8" width="676.5" height="167.6" fill="#323232"/></g>
<g filter="url(#bl12)"><rect x="388.2" y="1738.2" width="358.8" height="138.2" fill="#212121"/></g>
<g filter="url(#bl32)"><ellipse cx="735.3" cy="1582.4" rx="44.1" ry="58.8" fill="#6a6a6a"/></g>
<g filter="url(#bl12)"><polyline points="758.8,1511.8 726.5,1547.1 682.4,1570.6" fill="none" stroke="#858585" stroke-width="14.7" stroke-linecap="round" stroke-linejoin="round"/></g>
<g filter="url(#bl16)"><polyline points="761.8,1611.8 776.5,1714.7" fill="none" stroke="#636363" stroke-width="20.6" stroke-linecap="round" stroke-linejoin="round"/></g>
<g filter="url(#bl32)"><ellipse cx="573.5" cy="1258.8" rx="50.0" ry="50.0" fill="#8f8f8f"/></g>
<g filter="url(#bl12)"><ellipse cx="580.9" cy="1267.6" rx="14.7" ry="17.6" fill="#a3a3a3"/></g>
<g filter="url(#bl4)"><ellipse cx="770.6" cy="1732.4" rx="8.2" ry="14.7" fill="#121212"/></g>
<g filter="url(#bl2)"><ellipse cx="775.9" cy="1726.5" rx="2.9" ry="8.8" fill="#959595"/></g>
</g></g>
<g clip-path="url(#cp_c2)"><g filter="url(#cm_c2)">
<rect x="680.0" y="1100.0" width="700.0" height="760.0" fill="#6c6c6c"/>
<g filter="url(#bl32)"><ellipse cx="853.5" cy="1435.3" rx="88.2" ry="88.2" fill="#777777"/><ellipse cx="1024.1" cy="1579.4" rx="158.8" ry="138.2" fill="#454545"/><ellipse cx="927.1" cy="1641.2" rx="73.5" ry="88.2" fill="#434343"/><ellipse cx="1030.0" cy="1582.4" rx="97.1" ry="94.1" fill="#404040"/></g>
<g filter="url(#bl24)"><polygon points="868.2,1670.6 1015.3,1694.1 1147.6,1682.4 1147.6,1876.5 868.2,1876.5" fill="#333333"/></g>
<g filter="url(#bl16)"><polygon points="868.2,1726.5 985.9,1729.4 1074.1,1717.6 1147.6,1694.1 1153.5,1876.5 868.2,1876.5" fill="#1c1c1c"/><polyline points="1059.4,1273.5 1103.5,1311.8 1147.6,1364.7 1191.8,1435.3" fill="none" stroke="#858585" stroke-width="38.2" stroke-linecap="round" stroke-linejoin="round"/></g>
<g filter="url(#bl24)"><ellipse cx="1003.5" cy="1267.6" rx="50.0" ry="52.9" fill="#959595"/></g>
<g filter="url(#bl16)"><ellipse cx="1085.9" cy="1352.9" rx="35.3" ry="41.2" fill="#aeaeae"/></g>
<g filter="url(#bl12)"><ellipse cx="1015.3" cy="1285.3" rx="23.5" ry="26.5" fill="#b1b1b1"/></g>
<g filter="url(#bl8)"><ellipse cx="1024.1" cy="1300.0" rx="17.6" ry="26.5" fill="#c1c1c1"/></g>
<g filter="url(#bl6)"><ellipse cx="1015.3" cy="1329.4" rx="22.1" ry="16.2" fill="#dcdcdc"/><ellipse cx="1041.8" cy="1370.6" rx="19.1" ry="16.2" fill="#e3e3e3"/></g>
<g filter="url(#bl8)"><ellipse cx="1077.1" cy="1338.2" rx="17.6" ry="20.6" fill="#bebebe"/></g>
<g filter="url(#bl6)"><ellipse cx="1100.6" cy="1373.5" rx="13.2" ry="17.6" fill="#c6c6c6"/></g>
<g filter="url(#bl8)"><ellipse cx="1074.1" cy="1382.4" rx="20.6" ry="16.2" fill="#989898"/><ellipse cx="1012.4" cy="1358.8" rx="17.6" ry="20.6" fill="#4a4a4a"/></g>
<g filter="url(#bl4)"><ellipse cx="1046.2" cy="1338.2" rx="11.8" ry="22.1" fill="#101010"/><ellipse cx="1109.4" cy="1402.9" rx="13.2" ry="10.3" fill="#232323"/></g>
<g filter="url(#bl24)"><ellipse cx="1132.9" cy="1432.4" rx="58.8" ry="26.5" fill="#919191"/><polyline points="1177.1,1479.4 1191.8,1538.2 1206.5,1611.8" fill="none" stroke="#676767" stroke-width="50" stroke-linecap="round" stroke-linejoin="round"/></g>
<g filter="url(#bl12)"><ellipse cx="1174.1" cy="1500.0" rx="17.6" ry="23.5" fill="#7c7c7c"/></g>
<g filter="url(#bl4)"><ellipse cx="1199.1" cy="1561.8" rx="11.8" ry="14.7" fill="#dcdcdc"/></g>
<g filter="url(#bl16)"><polygon points="1156.5,1658.8 1206.5,1617.6 1280.0,1611.8 1280.0,1788.2 1171.2,1788.2 1162.4,1714.7" fill="#838383"/></g>
<g filter="url(#bl12)"><ellipse cx="1232.9" cy="1705.9" rx="20.6" ry="14.7" fill="#959595"/></g>
<g filter="url(#bl8)"><polyline points="1132.9,1682.4 1171.2,1664.7 1191.8,1641.2" fill="none" stroke="#9c9c9c" stroke-width="14.7" stroke-linecap="round" stroke-linejoin="round"/></g>
<g filter="url(#bl4)"><ellipse cx="1168.2" cy="1664.7" rx="10.3" ry="7.4" fill="#bcbcbc"/></g>
<g filter="url(#bl8)"><ellipse cx="1185.9" cy="1688.2" rx="14.7" ry="14.7" fill="#515151"/></g>
<g filter="url(#bl16)"><ellipse cx="1215.3" cy="1744.1" rx="35.3" ry="14.7" fill="#6a6a6a"/></g>
<g filter="url(#bl4)"><ellipse cx="1156.5" cy="1739.7" rx="10.3" ry="8.8" fill="#eaeaea"/><ellipse cx="1165.3" cy="1717.6" rx="5.9" ry="8.8" fill="#aaaaaa"/></g>
</g></g>
<g clip-path="url(#cp_c3)"><g filter="url(#cm_c3)">
<rect x="1150.0" y="1100.0" width="700.0" height="760.0" fill="#545454"/>
<g filter="url(#bl32)"><polygon points="1191.2,1170.6 1661.8,1170.6 1617.6,1341.2 1514.7,1394.1 1397.1,1435.3 1191.2,1494.1" fill="#6e6e6e"/><ellipse cx="1352.9" cy="1517.6" rx="82.4" ry="67.6" fill="#5f5f5f"/><ellipse cx="1508.8" cy="1488.2" rx="82.4" ry="58.8" fill="#454545"/></g>
<g filter="url(#bl24)"><polygon points="1617.6,1391.2 1750.0,1347.1 1779.4,1641.2 1676.5,1626.5 1647.1,1494.1" fill="#444444"/></g>
<g filter="url(#bl12)"><ellipse cx="1402.9" cy="1370.6" rx="23.5" ry="16.2" fill="#808080"/></g>
<g filter="url(#bl16)"><ellipse cx="1479.4" cy="1288.2" rx="23.5" ry="26.5" fill="#808080"/></g>
<g filter="url(#bl12)"><ellipse cx="1529.4" cy="1376.5" rx="23.5" ry="16.2" fill="#838383"/></g>
<g filter="url(#bl8)"><ellipse cx="1432.4" cy="1347.1" rx="16.2" ry="13.2" fill="#4f4f4f"/><ellipse cx="1497.1" cy="1350.0" rx="16.2" ry="13.2" fill="#4a4a4a"/></g>
<g filter="url(#bl12)"><ellipse cx="1558.8" cy="1347.1" rx="19.1" ry="16.2" fill="#4f4f4f"/></g>
<g filter="url(#bl16)"><polyline points="1500.0,1400.0 1505.9,1435.3 1529.4,1464.7" fill="none" stroke="#474747" stroke-width="26.5" stroke-linecap="round" stroke-linejoin="round"/></g>
<g filter="url(#bl8)"><ellipse cx="1544.1" cy="1423.5" rx="13.2" ry="16.2" fill="#434343"/></g>
<g filter="url(#bl12)"><polyline points="1605.9,1470.6 1617.6,1523.5 1627.9,1591.2" fill="none" stroke="#6e6e6e" stroke-width="16.2" stroke-linecap="round" stroke-linejoin="round"/></g>
<g filter="url(#bl8)"><ellipse cx="1532.4" cy="1529.4" rx="16.2" ry="10.3" fill="#858585"/><ellipse cx="1508.8" cy="1550.0" rx="14.7" ry="11.8" fill="#6c6c6c"/><ellipse cx="1558.8" cy="1538.2" rx="11.8" ry="14.7" fill="#777777"/></g>
<g filter="url(#bl16)"><ellipse cx="1544.1" cy="1611.8" rx="26.5" ry="23.5" fill="#606060"/><ellipse cx="1479.4" cy="1582.4" rx="38.2" ry="32.4" fill="#404040"/></g>
<g filter="url(#bl24)"><polygon points="1308.8,1617.6 1426.5,1611.8 1514.7,1635.3 1544.1,1670.6 1544.1,1876.5 1308.8,1876.5" fill="#2d2d2d"/></g>
<g filter="url(#bl16)"><polygon points="1308.8,1694.1 1455.9,1700.0 1544.1,1664.7 1588.2,1676.5 1617.6,1705.9 1641.2,1729.4 1647.1,1876.5 1308.8,1876.5" fill="#1b1b1b"/></g>
<g filter="url(#bl24)"><ellipse cx="1632.4" cy="1685.3" rx="52.9" ry="52.9" fill="#484848"/></g>
<g filter="url(#bl8)"><polyline points="1544.1,1676.5 1573.5,1635.3 1594.1,1605.9 1588.2,1567.6 1608.8,1508.8" fill="none" stroke="#232323" stroke-width="11.8" stroke-linecap="round" stroke-linejoin="round"/></g>
<g filter="url(#bl12)"><ellipse cx="1608.8" cy="1655.9" rx="16.2" ry="13.2" fill="#676767"/></g>
<g filter="url(#bl16)"><ellipse cx="1661.8" cy="1723.5" rx="17.6" ry="23.5" fill="#4f4f4f"/><polygon points="1691.2,1567.6 1750.0,1552.9 1750.0,1788.2 1708.8,1788.2 1702.9,1641.2" fill="#2a2a2a"/><ellipse cx="1691.2" cy="1729.4" rx="23.5" ry="26.5" fill="#202020"/></g>
<g filter="url(#bl3)"><ellipse cx="1679.4" cy="1494.1" rx="5.3" ry="13.2" fill="#808080"/></g>
</g></g>
<circle cx="143.7" cy="151.5" r="97.5" fill="url(#disc)" stroke="#3c3c3c" stroke-width="1.1"/>
<circle cx="141.1" cy="151.2" r="20.6" fill="#0c0c0c"/>
<path d="M126.69999999999999,165.5 A 22 22 0 0 0 151.7,172.5" stroke="#3a3a3a" stroke-width="1.5" fill="none" opacity="0.8"/>
<rect x="185.6" y="149.1" width="56.2" height="4.4" fill="#fe0000"/>
<text transform="translate(153.50 163.60) scale(0.8976 1)" font-family='"Liberation Serif", serif' font-size="34.85" font-weight="bold" font-style="normal" fill="#fe0000" >A</text>
<text transform="translate(250.40 163.03) scale(0.9175 1)" font-family='"Liberation Serif", serif' font-size="33.64" font-weight="bold" font-style="normal" fill="#fe0000" >B</text>
<text transform="translate(206.83 141.10) scale(0.8048 1)" font-family='"Liberation Serif", serif' font-size="33.28" font-weight="normal" font-style="italic" fill="#000" >L</text>
<text transform="translate(269.00 79.28) scale(0.9284 1)" font-family='"Liberation Serif", serif' font-size="44.70" font-weight="bold" font-style="normal" fill="#fe0000" >B</text>
<text transform="translate(268.20 258.80) scale(0.9135 1)" font-family='"Liberation Serif", serif' font-size="44.39" font-weight="bold" font-style="normal" fill="#fe0000" >A</text>
<text transform="translate(5.80 33.69) scale(0.9772 1)" font-family='"Liberation Serif", serif' font-size="42.87" font-weight="bold" font-style="normal" fill="#000" >(a)</text>
<text transform="translate(5.30 462.89) scale(0.9771 1)" font-family='"Liberation Serif", serif' font-size="42.87" font-weight="bold" font-style="normal" fill="#000" >(b)</text>
<text transform="translate(3.70 1206.93) scale(0.9755 1)" font-family='"Liberation Serif", serif' font-size="42.20" font-weight="bold" font-style="normal" fill="#000" >(c)</text>
<path d="M303.2,255.1H1987" stroke="#1a1a1a" stroke-width="1.9" fill="none"/>
<path d="M1996,255.1L1984.5,249.4L1984.5,260.8Z" fill="#1a1a1a"/>
<path d="M304.1,255V280.3" stroke="#1a1a1a" stroke-width="1.6" fill="none"/>
<path d="M1110.8,255V280.3" stroke="#1a1a1a" stroke-width="1.6" fill="none"/>
<path d="M1964.5,255V280.3" stroke="#1a1a1a" stroke-width="1.6" fill="none"/>
<text transform="translate(281.80 310.44) scale(0.8606 1)" font-family='"Liberation Serif", serif' font-size="35.56" font-weight="normal" font-style="normal" fill="#000" >160</text>
<text transform="translate(1089.80 312.30) scale(0.8082 1)" font-family='"Liberation Serif", serif' font-size="36.38" font-weight="normal" font-style="normal" fill="#000" >172</text>
<text transform="translate(1943.20 313.75) scale(0.8561 1)" font-family='"Liberation Serif", serif' font-size="34.96" font-weight="normal" font-style="normal" fill="#000" >185</text>
<text transform="translate(1071.80 351.67) scale(0.9066 1)" font-family='"Liberation Serif", serif' font-size="39.52" font-weight="normal" font-style="normal" fill="#000" >Time [s]</text>
<path d="M311.5,659.7L544.2,410.2" stroke="#0d0d0d" stroke-width="2" fill="none"/>
<polygon points="549.7,404.4 544.6,416.8 542.9,411.7 537.7,410.3" fill="#0d0d0d"/>
<polygon points="306.0,665.5 311.1,653.1 312.8,658.2 318.0,659.6" fill="#0d0d0d"/>
<text transform="translate(416.00 515.50) rotate(-46.97415216816935) translate(-11.66 14.08) scale(1.0000 1)" font-family='"Liberation Serif", serif' font-size="43.00" font-weight="normal" font-style="italic" fill="#000">L</text>
<path d="M402.6,949.5 C401.2,905.0 397.5,865.0 390.5,828.0 S363.5,771.0 347.5,753.5" stroke="#1c3257" stroke-width="3.6" fill="none"/>
<polygon points="341.8,747.2 356.3,753.8 348.7,755.1 346.5,762.4" fill="#1c3257"/>
<text transform="translate(363.60 992.68) scale(1.0131 1)" font-family='"Liberation Serif", serif' font-size="42.41" font-weight="normal" font-style="normal" fill="#000" >Flow</text>
<rect x="629.1" y="959.3" width="151.0" height="4.4" fill="#000"/>
<text transform="translate(655.40 1006.16) scale(0.9685 1)" font-family='"Liberation Serif", serif' font-size="44.21" font-weight="normal" font-style="normal" fill="#000" >5 mm</text>
<path d="M317.4,1016.9H1767.4" stroke="#0d0d0d" stroke-width="2" fill="none"/>
<path d="M599.2,955.0V1038.6" stroke="#0d0d0d" stroke-width="1.7" fill="none"/>
<path d="M1075.8,955.0V1038.6" stroke="#0d0d0d" stroke-width="1.7" fill="none"/>
<path d="M1549.8,955.0V1038.6" stroke="#8c8c8c" stroke-width="1.6" fill="none"/>
<text transform="translate(570.00 1079.87) scale(0.9765 1)" font-family='"Liberation Serif", serif' font-size="32.62" font-weight="normal" font-style="normal" fill="#000" >160 (219)</text>
<text transform="translate(1048.60 1079.96) scale(0.9836 1)" font-family='"Liberation Serif", serif' font-size="32.18" font-weight="normal" font-style="normal" fill="#000" >172 (305)</text>
<text transform="translate(1529.30 1078.59) scale(0.9806 1)" font-family='"Liberation Serif", serif' font-size="32.51" font-weight="normal" font-style="normal" fill="#000" >185 (462)</text>
<text transform="translate(885.90 1142.48) scale(0.9897 1)" font-family='"Liberation Serif", serif' font-size="36.80" font-weight="normal" font-style="normal" fill="#000" >Time [s] (Shear strain [-])</text>
<path d="M309.1,1463.2L542.3,1212.7" stroke="#0d0d0d" stroke-width="2" fill="none"/>
<polygon points="547.8,1206.8 542.8,1219.2 541.0,1214.1 535.8,1212.7" fill="#0d0d0d"/>
<polygon points="303.6,1469.1 308.6,1456.7 310.4,1461.8 315.6,1463.2" fill="#0d0d0d"/>
<text transform="translate(408.00 1317.50) rotate(-47.04661895457771) translate(-11.66 14.08) scale(1.0000 1)" font-family='"Liberation Serif", serif' font-size="43.00" font-weight="normal" font-style="italic" fill="#000">L</text>
<path d="M394.3,1749.5 C392.9,1705.0 389.2,1665.0 382.2,1628.0 S355.2,1571.0 339.2,1553.5" stroke="#1c3257" stroke-width="3.6" fill="none"/>
<polygon points="333.5,1547.2 348.0,1553.8 340.4,1555.1 338.2,1562.4" fill="#1c3257"/>
<text transform="translate(355.30 1792.68) scale(1.0131 1)" font-family='"Liberation Serif", serif' font-size="42.41" font-weight="normal" font-style="normal" fill="#000" >Flow</text>
<rect x="620.8" y="1759.3" width="151.0" height="4.4" fill="#000"/>
<text transform="translate(647.10 1806.16) scale(0.9685 1)" font-family='"Liberation Serif", serif' font-size="44.21" font-weight="normal" font-style="normal" fill="#000" >5 mm</text>
<path d="M309.1,1816.9H1759.1" stroke="#0d0d0d" stroke-width="2" fill="none"/>
<path d="M590.9,1755.0V1838.6" stroke="#0d0d0d" stroke-width="1.7" fill="none"/>
<path d="M1067.5,1755.0V1838.6" stroke="#8c8c8c" stroke-width="1.6" fill="none"/>
<path d="M1541.5,1755.0V1838.6" stroke="#0d0d0d" stroke-width="1.7" fill="none"/>
<text transform="translate(561.70 1880.47) scale(0.9765 1)" font-family='"Liberation Serif", serif' font-size="32.62" font-weight="normal" font-style="normal" fill="#000" >160 (219)</text>
<text transform="translate(1040.30 1880.56) scale(0.9836 1)" font-family='"Liberation Serif", serif' font-size="32.18" font-weight="normal" font-style="normal" fill="#000" >172 (305)</text>
<text transform="translate(1521.00 1879.19) scale(0.9806 1)" font-family='"Liberation Serif", serif' font-size="32.51" font-weight="normal" font-style="normal" fill="#000" >185 (462)</text>
<text transform="translate(877.60 1943.08) scale(0.9897 1)" font-family='"Liberation Serif", serif' font-size="36.80" font-weight="normal" font-style="normal" fill="#000" >Time [s] (Shear strain [-])</text>
<rect x="1782.4" y="409.4" width="28.5" height="189.0" fill="url(#cbar)"/>
<rect x="1782.4" y="408.8" width="40.7" height="3.3" fill="#111"/>
<rect x="1782.4" y="595.1" width="40.7" height="3.3" fill="#111"/>
<text transform="translate(1837.10 419.91) scale(1.0318 1)" font-family='"Liberation Sans", sans-serif' font-size="28.69" font-weight="normal" font-style="normal" fill="#000" >50 nm</text>
<text transform="translate(1837.10 605.11) scale(1.0256 1)" font-family='"Liberation Sans", sans-serif' font-size="28.69" font-weight="normal" font-style="normal" fill="#000" >0 nm</text>
<text transform="translate(1790.70 643.10) scale(0.9984 1)" font-family='"Liberation Sans", sans-serif' font-size="30.20" font-weight="normal" font-style="normal" fill="#000" >Retardation</text>
<g shape-rendering="crispEdges"><path d="M1926.00,1302.20L1925.93,1298.54L1889.26,1299.97L1889.30,1302.20Z" fill="rgb(255,8,0)"/><path d="M1925.94,1298.92L1925.74,1295.27L1889.14,1297.97L1889.27,1300.20Z" fill="rgb(255,25,0)"/><path d="M1925.77,1295.64L1925.45,1292.00L1888.96,1295.98L1889.16,1298.20Z" fill="rgb(255,42,0)"/><path d="M1925.49,1292.37L1925.03,1288.75L1888.71,1294.00L1888.99,1296.21Z" fill="rgb(255,59,0)"/><path d="M1925.09,1289.12L1924.51,1285.51L1888.39,1292.02L1888.74,1294.23Z" fill="rgb(255,76,0)"/><path d="M1924.57,1285.88L1923.87,1282.29L1888.00,1290.06L1888.43,1292.25Z" fill="rgb(255,93,0)"/><path d="M1923.95,1282.66L1923.12,1279.09L1887.54,1288.12L1888.05,1290.29Z" fill="rgb(255,110,0)"/><path d="M1923.21,1279.46L1922.25,1275.93L1887.02,1286.19L1887.60,1288.34Z" fill="rgb(255,127,0)"/><path d="M1922.36,1276.29L1921.28,1272.80L1886.42,1284.28L1887.08,1286.41Z" fill="rgb(255,144,0)"/><path d="M1921.40,1273.15L1920.20,1269.70L1885.77,1282.39L1886.50,1284.49Z" fill="rgb(255,161,0)"/><path d="M1920.33,1270.05L1919.01,1266.64L1885.04,1280.52L1885.84,1282.60Z" fill="rgb(255,178,0)"/><path d="M1919.16,1266.99L1917.72,1263.62L1884.25,1278.68L1885.13,1280.74Z" fill="rgb(255,195,0)"/><path d="M1917.87,1263.97L1916.32,1260.66L1883.40,1276.88L1884.35,1278.89Z" fill="rgb(255,212,0)"/><path d="M1916.49,1260.99L1914.82,1257.74L1882.48,1275.10L1883.50,1277.08Z" fill="rgb(255,229,0)"/><path d="M1915.00,1258.07L1913.22,1254.87L1881.51,1273.35L1882.59,1275.30Z" fill="rgb(255,246,0)"/><path d="M1913.41,1255.20L1911.52,1252.07L1880.47,1271.64L1881.62,1273.55Z" fill="rgb(246,255,0)"/><path d="M1911.72,1252.39L1909.72,1249.32L1879.38,1269.97L1880.59,1271.84Z" fill="rgb(229,255,0)"/><path d="M1909.93,1249.64L1907.83,1246.64L1878.22,1268.33L1879.50,1270.16Z" fill="rgb(212,255,0)"/><path d="M1908.05,1246.95L1905.84,1244.03L1877.01,1266.74L1878.36,1268.52Z" fill="rgb(195,255,0)"/><path d="M1906.07,1244.33L1903.77,1241.49L1875.75,1265.19L1877.15,1266.92Z" fill="rgb(178,255,0)"/><path d="M1904.01,1241.78L1901.60,1239.02L1874.43,1263.69L1875.89,1265.37Z" fill="rgb(161,255,0)"/><path d="M1901.86,1239.30L1899.36,1236.63L1873.06,1262.23L1874.58,1263.86Z" fill="rgb(144,255,0)"/><path d="M1899.62,1236.90L1897.03,1234.32L1871.64,1260.82L1873.22,1262.40Z" fill="rgb(127,255,0)"/><path d="M1897.30,1234.58L1894.62,1232.09L1870.17,1259.46L1871.80,1260.98Z" fill="rgb(110,255,0)"/><path d="M1894.90,1232.34L1892.13,1229.95L1868.66,1258.16L1870.34,1259.62Z" fill="rgb(93,255,0)"/><path d="M1892.42,1230.19L1889.58,1227.90L1867.10,1256.91L1868.83,1258.31Z" fill="rgb(76,255,0)"/><path d="M1889.87,1228.13L1886.95,1225.93L1865.49,1255.71L1867.28,1257.05Z" fill="rgb(59,255,0)"/><path d="M1887.25,1226.15L1884.25,1224.06L1863.85,1254.57L1865.68,1255.84Z" fill="rgb(42,255,0)"/><path d="M1884.56,1224.27L1881.49,1222.28L1862.17,1253.49L1864.04,1254.70Z" fill="rgb(25,255,0)"/><path d="M1881.81,1222.48L1878.67,1220.61L1860.45,1252.46L1862.36,1253.61Z" fill="rgb(8,255,0)"/><path d="M1879.00,1220.79L1875.80,1219.03L1858.70,1251.50L1860.65,1252.58Z" fill="rgb(0,255,8)"/><path d="M1876.13,1219.20L1872.87,1217.55L1856.91,1250.60L1858.90,1251.61Z" fill="rgb(0,255,25)"/><path d="M1873.21,1217.71L1869.89,1216.17L1855.10,1249.76L1857.12,1250.70Z" fill="rgb(0,255,42)"/><path d="M1870.23,1216.33L1866.86,1214.90L1853.25,1248.99L1855.31,1249.85Z" fill="rgb(0,255,59)"/><path d="M1867.21,1215.04L1863.80,1213.74L1851.38,1248.28L1853.46,1249.07Z" fill="rgb(0,255,76)"/><path d="M1864.15,1213.87L1860.69,1212.69L1849.49,1247.63L1851.60,1248.36Z" fill="rgb(0,255,93)"/><path d="M1861.05,1212.80L1857.55,1211.74L1847.57,1247.06L1849.71,1247.70Z" fill="rgb(0,255,110)"/><path d="M1857.91,1211.84L1854.38,1210.90L1845.64,1246.55L1847.79,1247.12Z" fill="rgb(0,255,127)"/><path d="M1854.74,1210.99L1851.18,1210.18L1843.69,1246.10L1845.86,1246.60Z" fill="rgb(0,255,144)"/><path d="M1851.54,1210.25L1847.95,1209.56L1841.72,1245.73L1843.91,1246.15Z" fill="rgb(0,255,161)"/><path d="M1848.32,1209.63L1844.71,1209.06L1839.75,1245.43L1841.95,1245.77Z" fill="rgb(0,255,178)"/><path d="M1845.08,1209.11L1841.45,1208.68L1837.76,1245.19L1839.97,1245.46Z" fill="rgb(0,255,195)"/><path d="M1841.83,1208.71L1838.18,1208.40L1835.77,1245.02L1837.99,1245.21Z" fill="rgb(0,255,212)"/><path d="M1838.56,1208.43L1834.90,1208.24L1833.77,1244.93L1836.00,1245.04Z" fill="rgb(0,255,229)"/><path d="M1835.28,1208.26L1831.62,1208.20L1831.77,1244.90L1834.00,1244.93Z" fill="rgb(0,255,246)"/><path d="M1832.00,1208.20L1828.34,1208.27L1829.77,1244.94L1832.00,1244.90Z" fill="rgb(0,246,255)"/><path d="M1828.72,1208.26L1825.07,1208.46L1827.77,1245.06L1830.00,1244.93Z" fill="rgb(0,229,255)"/><path d="M1825.44,1208.43L1821.80,1208.75L1825.78,1245.24L1828.00,1245.04Z" fill="rgb(0,212,255)"/><path d="M1822.17,1208.71L1818.55,1209.17L1823.80,1245.49L1826.01,1245.21Z" fill="rgb(0,195,255)"/><path d="M1818.92,1209.11L1815.31,1209.69L1821.82,1245.81L1824.03,1245.46Z" fill="rgb(0,178,255)"/><path d="M1815.68,1209.63L1812.09,1210.33L1819.86,1246.20L1822.05,1245.77Z" fill="rgb(0,161,255)"/><path d="M1812.46,1210.25L1808.89,1211.08L1817.92,1246.66L1820.09,1246.15Z" fill="rgb(0,144,255)"/><path d="M1809.26,1210.99L1805.73,1211.95L1815.99,1247.18L1818.14,1246.60Z" fill="rgb(0,127,255)"/><path d="M1806.09,1211.84L1802.60,1212.92L1814.08,1247.78L1816.21,1247.12Z" fill="rgb(0,110,255)"/><path d="M1802.95,1212.80L1799.50,1214.00L1812.19,1248.43L1814.29,1247.70Z" fill="rgb(0,93,255)"/><path d="M1799.85,1213.87L1796.44,1215.19L1810.32,1249.16L1812.40,1248.36Z" fill="rgb(0,76,255)"/><path d="M1796.79,1215.04L1793.42,1216.48L1808.48,1249.95L1810.54,1249.07Z" fill="rgb(0,59,255)"/><path d="M1793.77,1216.33L1790.46,1217.88L1806.68,1250.80L1808.69,1249.85Z" fill="rgb(0,42,255)"/><path d="M1790.79,1217.71L1787.54,1219.38L1804.90,1251.72L1806.88,1250.70Z" fill="rgb(0,25,255)"/><path d="M1787.87,1219.20L1784.67,1220.98L1803.15,1252.69L1805.10,1251.61Z" fill="rgb(0,8,255)"/><path d="M1785.00,1220.79L1781.87,1222.68L1801.44,1253.73L1803.35,1252.58Z" fill="rgb(8,0,255)"/><path d="M1782.19,1222.48L1779.12,1224.48L1799.77,1254.82L1801.64,1253.61Z" fill="rgb(25,0,255)"/><path d="M1779.44,1224.27L1776.44,1226.37L1798.13,1255.98L1799.96,1254.70Z" fill="rgb(42,0,255)"/><path d="M1776.75,1226.15L1773.83,1228.36L1796.54,1257.19L1798.32,1255.84Z" fill="rgb(59,0,255)"/><path d="M1774.13,1228.13L1771.29,1230.43L1794.99,1258.45L1796.72,1257.05Z" fill="rgb(76,0,255)"/><path d="M1771.58,1230.19L1768.82,1232.60L1793.49,1259.77L1795.17,1258.31Z" fill="rgb(93,0,255)"/><path d="M1769.10,1232.34L1766.43,1234.84L1792.03,1261.14L1793.66,1259.62Z" fill="rgb(110,0,255)"/><path d="M1766.70,1234.58L1764.12,1237.17L1790.62,1262.56L1792.20,1260.98Z" fill="rgb(127,0,255)"/><path d="M1764.38,1236.90L1761.89,1239.58L1789.26,1264.03L1790.78,1262.40Z" fill="rgb(144,0,255)"/><path d="M1762.14,1239.30L1759.75,1242.07L1787.96,1265.54L1789.42,1263.86Z" fill="rgb(161,0,255)"/><path d="M1759.99,1241.78L1757.70,1244.62L1786.71,1267.10L1788.11,1265.37Z" fill="rgb(178,0,255)"/><path d="M1757.93,1244.33L1755.73,1247.25L1785.51,1268.71L1786.85,1266.92Z" fill="rgb(195,0,255)"/><path d="M1755.95,1246.95L1753.86,1249.95L1784.37,1270.35L1785.64,1268.52Z" fill="rgb(212,0,255)"/><path d="M1754.07,1249.64L1752.08,1252.71L1783.29,1272.03L1784.50,1270.16Z" fill="rgb(229,0,255)"/><path d="M1752.28,1252.39L1750.41,1255.53L1782.26,1273.75L1783.41,1271.84Z" fill="rgb(246,0,255)"/><path d="M1750.59,1255.20L1748.83,1258.40L1781.30,1275.50L1782.38,1273.55Z" fill="rgb(255,0,246)"/><path d="M1749.00,1258.07L1747.35,1261.33L1780.40,1277.29L1781.41,1275.30Z" fill="rgb(255,0,229)"/><path d="M1747.51,1260.99L1745.97,1264.31L1779.56,1279.10L1780.50,1277.08Z" fill="rgb(255,0,212)"/><path d="M1746.13,1263.97L1744.70,1267.34L1778.79,1280.95L1779.65,1278.89Z" fill="rgb(255,0,195)"/><path d="M1744.84,1266.99L1743.54,1270.40L1778.08,1282.82L1778.87,1280.74Z" fill="rgb(255,0,178)"/><path d="M1743.67,1270.05L1742.49,1273.51L1777.43,1284.71L1778.16,1282.60Z" fill="rgb(255,0,161)"/><path d="M1742.60,1273.15L1741.54,1276.65L1776.86,1286.63L1777.50,1284.49Z" fill="rgb(255,0,144)"/><path d="M1741.64,1276.29L1740.70,1279.82L1776.35,1288.56L1776.92,1286.41Z" fill="rgb(255,0,127)"/><path d="M1740.79,1279.46L1739.98,1283.02L1775.90,1290.51L1776.40,1288.34Z" fill="rgb(255,0,110)"/><path d="M1740.05,1282.66L1739.36,1286.25L1775.53,1292.48L1775.95,1290.29Z" fill="rgb(255,0,93)"/><path d="M1739.43,1285.88L1738.86,1289.49L1775.23,1294.45L1775.57,1292.25Z" fill="rgb(255,0,76)"/><path d="M1738.91,1289.12L1738.48,1292.75L1774.99,1296.44L1775.26,1294.23Z" fill="rgb(255,0,59)"/><path d="M1738.51,1292.37L1738.20,1296.02L1774.82,1298.43L1775.01,1296.21Z" fill="rgb(255,0,42)"/><path d="M1738.23,1295.64L1738.04,1299.30L1774.73,1300.43L1774.84,1298.20Z" fill="rgb(255,0,25)"/><path d="M1738.06,1298.92L1738.00,1302.58L1774.70,1302.43L1774.73,1300.20Z" fill="rgb(255,0,8)"/><path d="M1738.00,1302.20L1738.07,1305.86L1774.74,1304.43L1774.70,1302.20Z" fill="rgb(255,8,0)"/><path d="M1738.06,1305.48L1738.26,1309.13L1774.86,1306.43L1774.73,1304.20Z" fill="rgb(255,25,0)"/><path d="M1738.23,1308.76L1738.55,1312.40L1775.04,1308.42L1774.84,1306.20Z" fill="rgb(255,42,0)"/><path d="M1738.51,1312.03L1738.97,1315.65L1775.29,1310.40L1775.01,1308.19Z" fill="rgb(255,59,0)"/><path d="M1738.91,1315.28L1739.49,1318.89L1775.61,1312.38L1775.26,1310.17Z" fill="rgb(255,76,0)"/><path d="M1739.43,1318.52L1740.13,1322.11L1776.00,1314.34L1775.57,1312.15Z" fill="rgb(255,93,0)"/><path d="M1740.05,1321.74L1740.88,1325.31L1776.46,1316.28L1775.95,1314.11Z" fill="rgb(255,110,0)"/><path d="M1740.79,1324.94L1741.75,1328.47L1776.98,1318.21L1776.40,1316.06Z" fill="rgb(255,127,0)"/><path d="M1741.64,1328.11L1742.72,1331.60L1777.58,1320.12L1776.92,1317.99Z" fill="rgb(255,144,0)"/><path d="M1742.60,1331.25L1743.80,1334.70L1778.23,1322.01L1777.50,1319.91Z" fill="rgb(255,161,0)"/><path d="M1743.67,1334.35L1744.99,1337.76L1778.96,1323.88L1778.16,1321.80Z" fill="rgb(255,178,0)"/><path d="M1744.84,1337.41L1746.28,1340.78L1779.75,1325.72L1778.87,1323.66Z" fill="rgb(255,195,0)"/><path d="M1746.13,1340.43L1747.68,1343.74L1780.60,1327.52L1779.65,1325.51Z" fill="rgb(255,212,0)"/><path d="M1747.51,1343.41L1749.18,1346.66L1781.52,1329.30L1780.50,1327.32Z" fill="rgb(255,229,0)"/><path d="M1749.00,1346.33L1750.78,1349.53L1782.49,1331.05L1781.41,1329.10Z" fill="rgb(255,246,0)"/><path d="M1750.59,1349.20L1752.48,1352.33L1783.53,1332.76L1782.38,1330.85Z" fill="rgb(246,255,0)"/><path d="M1752.28,1352.01L1754.28,1355.08L1784.62,1334.43L1783.41,1332.56Z" fill="rgb(229,255,0)"/><path d="M1754.07,1354.76L1756.17,1357.76L1785.78,1336.07L1784.50,1334.24Z" fill="rgb(212,255,0)"/><path d="M1755.95,1357.45L1758.16,1360.37L1786.99,1337.66L1785.64,1335.88Z" fill="rgb(195,255,0)"/><path d="M1757.93,1360.07L1760.23,1362.91L1788.25,1339.21L1786.85,1337.48Z" fill="rgb(178,255,0)"/><path d="M1759.99,1362.62L1762.40,1365.38L1789.57,1340.71L1788.11,1339.03Z" fill="rgb(161,255,0)"/><path d="M1762.14,1365.10L1764.64,1367.77L1790.94,1342.17L1789.42,1340.54Z" fill="rgb(144,255,0)"/><path d="M1764.38,1367.50L1766.97,1370.08L1792.36,1343.58L1790.78,1342.00Z" fill="rgb(127,255,0)"/><path d="M1766.70,1369.82L1769.38,1372.31L1793.83,1344.94L1792.20,1343.42Z" fill="rgb(110,255,0)"/><path d="M1769.10,1372.06L1771.87,1374.45L1795.34,1346.24L1793.66,1344.78Z" fill="rgb(93,255,0)"/><path d="M1771.58,1374.21L1774.42,1376.50L1796.90,1347.49L1795.17,1346.09Z" fill="rgb(76,255,0)"/><path d="M1774.13,1376.27L1777.05,1378.47L1798.51,1348.69L1796.72,1347.35Z" fill="rgb(59,255,0)"/><path d="M1776.75,1378.25L1779.75,1380.34L1800.15,1349.83L1798.32,1348.56Z" fill="rgb(42,255,0)"/><path d="M1779.44,1380.13L1782.51,1382.12L1801.83,1350.91L1799.96,1349.70Z" fill="rgb(25,255,0)"/><path d="M1782.19,1381.92L1785.33,1383.79L1803.55,1351.94L1801.64,1350.79Z" fill="rgb(8,255,0)"/><path d="M1785.00,1383.61L1788.20,1385.37L1805.30,1352.90L1803.35,1351.82Z" fill="rgb(0,255,8)"/><path d="M1787.87,1385.20L1791.13,1386.85L1807.09,1353.80L1805.10,1352.79Z" fill="rgb(0,255,25)"/><path d="M1790.79,1386.69L1794.11,1388.23L1808.90,1354.64L1806.88,1353.70Z" fill="rgb(0,255,42)"/><path d="M1793.77,1388.07L1797.14,1389.50L1810.75,1355.41L1808.69,1354.55Z" fill="rgb(0,255,59)"/><path d="M1796.79,1389.36L1800.20,1390.66L1812.62,1356.12L1810.54,1355.33Z" fill="rgb(0,255,76)"/><path d="M1799.85,1390.53L1803.31,1391.71L1814.51,1356.77L1812.40,1356.04Z" fill="rgb(0,255,93)"/><path d="M1802.95,1391.60L1806.45,1392.66L1816.43,1357.34L1814.29,1356.70Z" fill="rgb(0,255,110)"/><path d="M1806.09,1392.56L1809.62,1393.50L1818.36,1357.85L1816.21,1357.28Z" fill="rgb(0,255,127)"/><path d="M1809.26,1393.41L1812.82,1394.22L1820.31,1358.30L1818.14,1357.80Z" fill="rgb(0,255,144)"/><path d="M1812.46,1394.15L1816.05,1394.84L1822.28,1358.67L1820.09,1358.25Z" fill="rgb(0,255,161)"/><path d="M1815.68,1394.77L1819.29,1395.34L1824.25,1358.97L1822.05,1358.63Z" fill="rgb(0,255,178)"/><path d="M1818.92,1395.29L1822.55,1395.72L1826.24,1359.21L1824.03,1358.94Z" fill="rgb(0,255,195)"/><path d="M1822.17,1395.69L1825.82,1396.00L1828.23,1359.38L1826.01,1359.19Z" fill="rgb(0,255,212)"/><path d="M1825.44,1395.97L1829.10,1396.16L1830.23,1359.47L1828.00,1359.36Z" fill="rgb(0,255,229)"/><path d="M1828.72,1396.14L1832.38,1396.20L1832.23,1359.50L1830.00,1359.47Z" fill="rgb(0,255,246)"/><path d="M1832.00,1396.20L1835.66,1396.13L1834.23,1359.46L1832.00,1359.50Z" fill="rgb(0,246,255)"/><path d="M1835.28,1396.14L1838.93,1395.94L1836.23,1359.34L1834.00,1359.47Z" fill="rgb(0,229,255)"/><path d="M1838.56,1395.97L1842.20,1395.65L1838.22,1359.16L1836.00,1359.36Z" fill="rgb(0,212,255)"/><path d="M1841.83,1395.69L1845.45,1395.23L1840.20,1358.91L1837.99,1359.19Z" fill="rgb(0,195,255)"/><path d="M1845.08,1395.29L1848.69,1394.71L1842.18,1358.59L1839.97,1358.94Z" fill="rgb(0,178,255)"/><path d="M1848.32,1394.77L1851.91,1394.07L1844.14,1358.20L1841.95,1358.63Z" fill="rgb(0,161,255)"/><path d="M1851.54,1394.15L1855.11,1393.32L1846.08,1357.74L1843.91,1358.25Z" fill="rgb(0,144,255)"/><path d="M1854.74,1393.41L1858.27,1392.45L1848.01,1357.22L1845.86,1357.80Z" fill="rgb(0,127,255)"/><path d="M1857.91,1392.56L1861.40,1391.48L1849.92,1356.62L1847.79,1357.28Z" fill="rgb(0,110,255)"/><path d="M1861.05,1391.60L1864.50,1390.40L1851.81,1355.97L1849.71,1356.70Z" fill="rgb(0,93,255)"/><path d="M1864.15,1390.53L1867.56,1389.21L1853.68,1355.24L1851.60,1356.04Z" fill="rgb(0,76,255)"/><path d="M1867.21,1389.36L1870.58,1387.92L1855.52,1354.45L1853.46,1355.33Z" fill="rgb(0,59,255)"/><path d="M1870.23,1388.07L1873.54,1386.52L1857.32,1353.60L1855.31,1354.55Z" fill="rgb(0,42,255)"/><path d="M1873.21,1386.69L1876.46,1385.02L1859.10,1352.68L1857.12,1353.70Z" fill="rgb(0,25,255)"/><path d="M1876.13,1385.20L1879.33,1383.42L1860.85,1351.71L1858.90,1352.79Z" fill="rgb(0,8,255)"/><path d="M1879.00,1383.61L1882.13,1381.72L1862.56,1350.67L1860.65,1351.82Z" fill="rgb(8,0,255)"/><path d="M1881.81,1381.92L1884.88,1379.92L1864.23,1349.58L1862.36,1350.79Z" fill="rgb(25,0,255)"/><path d="M1884.56,1380.13L1887.56,1378.03L1865.87,1348.42L1864.04,1349.70Z" fill="rgb(42,0,255)"/><path d="M1887.25,1378.25L1890.17,1376.04L1867.46,1347.21L1865.68,1348.56Z" fill="rgb(59,0,255)"/><path d="M1889.87,1376.27L1892.71,1373.97L1869.01,1345.95L1867.28,1347.35Z" fill="rgb(76,0,255)"/><path d="M1892.42,1374.21L1895.18,1371.80L1870.51,1344.63L1868.83,1346.09Z" fill="rgb(93,0,255)"/><path d="M1894.90,1372.06L1897.57,1369.56L1871.97,1343.26L1870.34,1344.78Z" fill="rgb(110,0,255)"/><path d="M1897.30,1369.82L1899.88,1367.23L1873.38,1341.84L1871.80,1343.42Z" fill="rgb(127,0,255)"/><path d="M1899.62,1367.50L1902.11,1364.82L1874.74,1340.37L1873.22,1342.00Z" fill="rgb(144,0,255)"/><path d="M1901.86,1365.10L1904.25,1362.33L1876.04,1338.86L1874.58,1340.54Z" fill="rgb(161,0,255)"/><path d="M1904.01,1362.62L1906.30,1359.78L1877.29,1337.30L1875.89,1339.03Z" fill="rgb(178,0,255)"/><path d="M1906.07,1360.07L1908.27,1357.15L1878.49,1335.69L1877.15,1337.48Z" fill="rgb(195,0,255)"/><path d="M1908.05,1357.45L1910.14,1354.45L1879.63,1334.05L1878.36,1335.88Z" fill="rgb(212,0,255)"/><path d="M1909.93,1354.76L1911.92,1351.69L1880.71,1332.37L1879.50,1334.24Z" fill="rgb(229,0,255)"/><path d="M1911.72,1352.01L1913.59,1348.87L1881.74,1330.65L1880.59,1332.56Z" fill="rgb(246,0,255)"/><path d="M1913.41,1349.20L1915.17,1346.00L1882.70,1328.90L1881.62,1330.85Z" fill="rgb(255,0,246)"/><path d="M1915.00,1346.33L1916.65,1343.07L1883.60,1327.11L1882.59,1329.10Z" fill="rgb(255,0,229)"/><path d="M1916.49,1343.41L1918.03,1340.09L1884.44,1325.30L1883.50,1327.32Z" fill="rgb(255,0,212)"/><path d="M1917.87,1340.43L1919.30,1337.06L1885.21,1323.45L1884.35,1325.51Z" fill="rgb(255,0,195)"/><path d="M1919.16,1337.41L1920.46,1334.00L1885.92,1321.58L1885.13,1323.66Z" fill="rgb(255,0,178)"/><path d="M1920.33,1334.35L1921.51,1330.89L1886.57,1319.69L1885.84,1321.80Z" fill="rgb(255,0,161)"/><path d="M1921.40,1331.25L1922.46,1327.75L1887.14,1317.77L1886.50,1319.91Z" fill="rgb(255,0,144)"/><path d="M1922.36,1328.11L1923.30,1324.58L1887.65,1315.84L1887.08,1317.99Z" fill="rgb(255,0,127)"/><path d="M1923.21,1324.94L1924.02,1321.38L1888.10,1313.89L1887.60,1316.06Z" fill="rgb(255,0,110)"/><path d="M1923.95,1321.74L1924.64,1318.15L1888.47,1311.92L1888.05,1314.11Z" fill="rgb(255,0,93)"/><path d="M1924.57,1318.52L1925.14,1314.91L1888.77,1309.95L1888.43,1312.15Z" fill="rgb(255,0,76)"/><path d="M1925.09,1315.28L1925.52,1311.65L1889.01,1307.96L1888.74,1310.17Z" fill="rgb(255,0,59)"/><path d="M1925.49,1312.03L1925.80,1308.38L1889.18,1305.97L1888.99,1308.19Z" fill="rgb(255,0,42)"/><path d="M1925.77,1308.76L1925.96,1305.10L1889.27,1303.97L1889.16,1306.20Z" fill="rgb(255,0,25)"/><path d="M1925.94,1305.48L1926.00,1301.82L1889.30,1301.97L1889.27,1304.20Z" fill="rgb(255,0,8)"/></g>
<circle cx="1832.0" cy="1302.2" r="75.65" fill="none" stroke="url(#wh)" stroke-width="36.7"/>
<circle cx="1832.0" cy="1302.2" r="94.0" fill="none" stroke="#fff" stroke-width="1.2" stroke-opacity="0.6"/>
<circle cx="1832.0" cy="1302.2" r="57.3" fill="none" stroke="#fff" stroke-width="1.2" stroke-opacity="0.6"/>
<path d="M1925.5,1302.2L1900.0,1302.2 M1922.3,1278.0L1911.7,1280.8 M1913.0,1255.5L1903.4,1261.0 M1898.1,1236.1L1880.1,1254.1 M1878.8,1221.2L1873.2,1230.8 M1856.2,1211.9L1853.4,1222.5 M1832.0,1208.7L1832.0,1234.2 M1807.8,1211.9L1810.6,1222.5 M1785.2,1221.2L1790.8,1230.8 M1765.9,1236.1L1783.9,1254.1 M1751.0,1255.5L1760.6,1261.0 M1741.7,1278.0L1752.3,1280.8 M1738.5,1302.2L1764.0,1302.2 M1741.7,1326.4L1752.3,1323.6 M1751.0,1349.0L1760.6,1343.5 M1765.9,1368.3L1783.9,1350.3 M1785.2,1383.2L1790.8,1373.6 M1807.8,1392.5L1810.6,1381.9 M1832.0,1395.7L1832.0,1370.2 M1856.2,1392.5L1853.4,1381.9 M1878.8,1383.2L1873.2,1373.6 M1898.1,1368.3L1880.1,1350.3 M1913.0,1349.0L1903.4,1343.5 M1922.3,1326.4L1911.7,1323.6" stroke="#1a1a1a" stroke-opacity="0.8" stroke-width="1.7" fill="none"/>
<text transform="translate(1834.00 1251.90) rotate(0) translate(-10.73 5.17) scale(0.9700 1)" font-family='"Liberation Serif", serif' font-size="15.80" font-weight="normal" font-style="normal" fill="#1a1a1a">90°</text>
<text transform="translate(1801.20 1268.90) rotate(0) translate(-14.56 5.17) scale(0.9700 1)" font-family='"Liberation Serif", serif' font-size="15.80" font-weight="normal" font-style="normal" fill="#1a1a1a">135°</text>
<text transform="translate(1863.60 1268.90) rotate(0) translate(-10.73 5.17) scale(0.9700 1)" font-family='"Liberation Serif", serif' font-size="15.80" font-weight="normal" font-style="normal" fill="#1a1a1a">45°</text>
<text transform="translate(1791.30 1304.00) rotate(0) translate(-14.56 5.17) scale(0.9700 1)" font-family='"Liberation Serif", serif' font-size="15.80" font-weight="normal" font-style="normal" fill="#1a1a1a">180°</text>
<text transform="translate(1882.50 1303.00) rotate(0) translate(-6.90 5.17) scale(0.9700 1)" font-family='"Liberation Serif", serif' font-size="15.80" font-weight="normal" font-style="normal" fill="#1a1a1a">0°</text>
<text transform="translate(1804.20 1334.90) rotate(0) translate(-14.56 5.17) scale(0.9700 1)" font-family='"Liberation Serif", serif' font-size="15.80" font-weight="normal" font-style="normal" fill="#1a1a1a">225°</text>
<text transform="translate(1863.60 1335.40) rotate(0) translate(-14.56 5.17) scale(0.9700 1)" font-family='"Liberation Serif", serif' font-size="15.80" font-weight="normal" font-style="normal" fill="#1a1a1a">315°</text>
<text transform="translate(1834.30 1351.80) rotate(0) translate(-14.56 5.17) scale(0.9700 1)" font-family='"Liberation Serif", serif' font-size="15.80" font-weight="normal" font-style="normal" fill="#1a1a1a">270°</text>
<text transform="translate(1806.00 1441.72) scale(0.9666 1)" font-family='"Liberation Sans", sans-serif' font-size="28.03" font-weight="normal" font-style="normal" fill="#000" >Axis</text>
</svg></body></html>
